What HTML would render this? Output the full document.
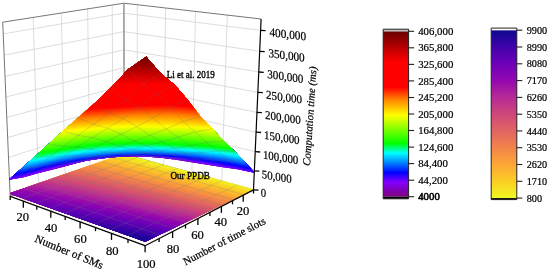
<!DOCTYPE html><html><head><meta charset="utf-8"><style>html,body{margin:0;padding:0;background:#fff}text{stroke:#000;stroke-width:.22px;paint-order:stroke}</style></head><body><svg width="550" height="275" viewBox="0 0 550 275" style="display:block;font-family:'Liberation Serif',serif" stroke-linejoin="round">
<rect width="550" height="275" fill="#fff"/>
<line x1="113.1" y1="158.3" x2="112.2" y2="5.0" stroke="#d2d2d2" stroke-width="0.75"/>
<line x1="137.0" y1="157.7" x2="137.4" y2="4.7" stroke="#d2d2d2" stroke-width="0.75"/>
<line x1="137.0" y1="157.7" x2="23.3" y2="201.2" stroke="#d2d2d2" stroke-width="0.75"/>
<line x1="113.1" y1="158.3" x2="243.2" y2="195.2" stroke="#d2d2d2" stroke-width="0.75"/>
<line x1="89.9" y1="166.9" x2="87.6" y2="8.9" stroke="#d2d2d2" stroke-width="0.75"/>
<line x1="163.6" y1="165.1" x2="165.6" y2="8.0" stroke="#d2d2d2" stroke-width="0.75"/>
<line x1="163.6" y1="165.1" x2="50.8" y2="211.2" stroke="#d2d2d2" stroke-width="0.75"/>
<line x1="89.9" y1="166.9" x2="221.4" y2="206.4" stroke="#d2d2d2" stroke-width="0.75"/>
<line x1="65.1" y1="176.1" x2="61.3" y2="13.0" stroke="#d2d2d2" stroke-width="0.75"/>
<line x1="191.9" y1="172.9" x2="195.5" y2="11.4" stroke="#d2d2d2" stroke-width="0.75"/>
<line x1="191.9" y1="172.9" x2="80.1" y2="221.9" stroke="#d2d2d2" stroke-width="0.75"/>
<line x1="65.1" y1="176.1" x2="197.9" y2="218.5" stroke="#d2d2d2" stroke-width="0.75"/>
<line x1="38.6" y1="185.9" x2="33.1" y2="17.4" stroke="#d2d2d2" stroke-width="0.75"/>
<line x1="221.8" y1="181.1" x2="227.3" y2="15.1" stroke="#d2d2d2" stroke-width="0.75"/>
<line x1="221.8" y1="181.1" x2="111.5" y2="233.4" stroke="#d2d2d2" stroke-width="0.75"/>
<line x1="38.6" y1="185.9" x2="172.6" y2="231.5" stroke="#d2d2d2" stroke-width="0.75"/>
<line x1="9.4" y1="177.1" x2="124.1" y2="137.3" stroke="#d2d2d2" stroke-width="0.75"/>
<line x1="124.1" y1="137.3" x2="254.3" y2="170.9" stroke="#d2d2d2" stroke-width="0.75"/>
<line x1="8.5" y1="157.5" x2="124.1" y2="120.2" stroke="#d2d2d2" stroke-width="0.75"/>
<line x1="124.1" y1="120.2" x2="255.2" y2="151.7" stroke="#d2d2d2" stroke-width="0.75"/>
<line x1="7.7" y1="137.6" x2="124.1" y2="102.9" stroke="#d2d2d2" stroke-width="0.75"/>
<line x1="124.1" y1="102.9" x2="256.1" y2="132.2" stroke="#d2d2d2" stroke-width="0.75"/>
<line x1="6.8" y1="117.5" x2="124.0" y2="85.4" stroke="#d2d2d2" stroke-width="0.75"/>
<line x1="124.0" y1="85.4" x2="256.9" y2="112.4" stroke="#d2d2d2" stroke-width="0.75"/>
<line x1="5.9" y1="97.0" x2="124.0" y2="67.7" stroke="#d2d2d2" stroke-width="0.75"/>
<line x1="124.0" y1="67.7" x2="257.8" y2="92.3" stroke="#d2d2d2" stroke-width="0.75"/>
<line x1="5.0" y1="76.3" x2="124.0" y2="49.8" stroke="#d2d2d2" stroke-width="0.75"/>
<line x1="124.0" y1="49.8" x2="258.8" y2="72.0" stroke="#d2d2d2" stroke-width="0.75"/>
<line x1="4.1" y1="55.2" x2="123.9" y2="31.6" stroke="#d2d2d2" stroke-width="0.75"/>
<line x1="123.9" y1="31.6" x2="259.7" y2="51.3" stroke="#d2d2d2" stroke-width="0.75"/>
<line x1="3.2" y1="33.9" x2="123.9" y2="13.2" stroke="#d2d2d2" stroke-width="0.75"/>
<line x1="123.9" y1="13.2" x2="260.6" y2="30.4" stroke="#d2d2d2" stroke-width="0.75"/>
<line x1="2.7" y1="22.2" x2="123.9" y2="3.2" stroke="#777" stroke-width="1"/>
<line x1="123.9" y1="3.2" x2="261.1" y2="19.0" stroke="#777" stroke-width="1"/>
<line x1="10.2" y1="196.4" x2="2.7" y2="22.2" stroke="#777" stroke-width="1"/>
<line x1="124.2" y1="154.2" x2="123.9" y2="3.2" stroke="#999" stroke-width="1.6"/>
<line x1="10.2" y1="196.4" x2="124.2" y2="154.2" stroke="#777" stroke-width="1"/>
<line x1="124.2" y1="154.2" x2="253.5" y2="189.9" stroke="#777" stroke-width="1"/>
<g stroke-width="0.3" stroke-linejoin="round">
<path d="M124.2,153.9 137.0,157.5 253.5,189.5 145.2,241.3 10.1,193.5Z" fill="#f1f621" stroke="#f1f621"/>
<path d="M175.9,168.5 204.4,176.0 253.5,189.5 145.2,241.3 10.1,193.5 122.3,154.6Z" fill="#f3f022" stroke="#f3f022"/>
<path d="M227.4,183.1 252.9,189.8 145.2,241.3 10.1,193.5 120.4,155.3 169.7,168.0Z" fill="#f4ea22" stroke="#f4ea22"/>
<path d="M246.8,189.2 251.5,190.4 145.2,241.3 10.1,193.5 118.5,155.9 146.2,163.0 176.7,170.9Z" fill="#f6e423" stroke="#f6e423"/>
<path d="M236.4,187.5 250.2,191.1 145.2,241.3 10.1,193.5 116.6,156.6 143.0,163.3 171.4,170.6Z" fill="#f8dd24" stroke="#f8dd24"/>
<path d="M228.0,186.3 248.9,191.7 145.2,241.3 10.1,193.5 114.6,157.2 139.8,163.6 166.9,170.5Z" fill="#f9d724" stroke="#f9d724"/>
<path d="M241.6,190.8 247.5,192.4 145.2,241.3 10.1,193.5 112.7,157.9 140.8,164.9 171.1,172.6 204.5,181.2Z" fill="#fbd125" stroke="#fbd125"/>
<path d="M233.4,189.7 246.1,193.0 145.2,241.3 10.1,193.5 110.8,158.6 137.6,165.3 167.2,172.7 199.1,180.9Z" fill="#fccb26" stroke="#fccb26"/>
<path d="M244.6,193.6 244.8,193.7 145.2,241.3 10.1,193.5 108.8,159.3 138.7,166.6 170.8,174.7 206.2,183.7Z" fill="#fcc529" stroke="#fcc529"/>
<path d="M236.8,192.6 243.4,194.3 145.2,241.3 10.1,193.5 106.9,159.9 135.4,166.9 166.1,174.6 200.0,183.2Z" fill="#fcc02b" stroke="#fcc02b"/>
<path d="M229.9,191.9 242.0,195.0 145.2,241.3 10.1,193.5 104.9,160.6 132.2,167.3 162.2,174.7 194.5,182.8Z" fill="#fcba2e" stroke="#fcba2e"/>
<path d="M238.7,195.2 240.6,195.7 145.2,241.3 10.1,193.5 102.9,161.3 132.5,168.5 165.0,176.5 200.1,185.3Z" fill="#fcb430" stroke="#fcb430"/>
<path d="M232.1,194.5 239.2,196.3 145.2,241.3 10.1,193.5 100.9,162.0 130.0,169.0 161.1,176.6 195.3,185.2Z" fill="#fcaf32" stroke="#fcaf32"/>
<path d="M226.1,194.0 237.8,197.0 145.2,241.3 10.1,193.5 98.9,162.7 126.7,169.3 157.1,176.7 190.0,184.9Z" fill="#fca935" stroke="#fca935"/>
<path d="M233.3,196.9 236.4,197.7 145.2,241.3 10.1,193.5 96.9,163.4 127.0,170.5 159.2,178.3 194.6,187.1Z" fill="#fba438" stroke="#fba438"/>
<path d="M227.5,196.5 235.0,198.4 145.2,241.3 10.1,193.5 94.8,164.1 124.4,171.0 155.9,178.6 189.8,187.0Z" fill="#fa9f3a" stroke="#fa9f3a"/>
<path d="M222.1,196.1 233.6,199.0 145.2,241.3 10.1,193.5 92.8,164.8 121.0,171.4 151.9,178.7 185.8,187.1Z" fill="#f89a3d" stroke="#f89a3d"/>
<path d="M228.2,198.7 232.2,199.7 145.2,241.3 10.1,193.5 90.7,165.5 120.6,172.4 153.3,180.2 189.1,188.9Z" fill="#f79540" stroke="#f79540"/>
<path d="M222.9,198.4 230.7,200.4 145.2,241.3 10.1,193.5 88.7,166.3 118.0,172.9 150.0,180.5 185.0,189.0Z" fill="#f69044" stroke="#f69044"/>
<path d="M228.3,200.9 229.3,201.1 145.2,241.3 10.1,193.5 86.6,167.0 117.6,174.0 151.3,181.9 188.4,190.9Z" fill="#f48b46" stroke="#f48b46"/>
<path d="M223.2,200.6 227.8,201.8 145.2,241.3 10.1,193.5 84.5,167.7 114.9,174.5 148.0,182.3 184.3,191.0Z" fill="#f3864a" stroke="#f3864a"/>
<path d="M218.3,200.5 226.4,202.5 145.2,241.3 10.1,193.5 82.4,168.4 112.2,175.1 144.7,182.6 180.2,191.1Z" fill="#f1824d" stroke="#f1824d"/>
<path d="M223.0,202.7 224.9,203.2 145.2,241.3 10.1,193.5 80.3,169.2 111.8,176.1 146.0,184.1 182.7,192.8Z" fill="#ee7d50" stroke="#ee7d50"/>
<path d="M218.2,202.6 223.4,203.9 145.2,241.3 10.1,193.5 78.2,169.9 109.1,176.7 142.7,184.4 178.6,192.9Z" fill="#ec7953" stroke="#ec7953"/>
<path d="M213.7,202.6 222.0,204.6 145.2,241.3 10.1,193.5 76.0,170.6 106.3,177.2 139.3,184.7 175.3,193.2Z" fill="#ea7456" stroke="#ea7456"/>
<path d="M217.8,204.6 220.5,205.3 145.2,241.3 10.1,193.5 73.9,171.4 89.8,174.8 105.9,178.3 139.9,186.0 177.0,194.7Z" fill="#e76f5a" stroke="#e76f5a"/>
<path d="M213.3,204.6 219.0,206.0 145.2,241.3 10.1,193.5 71.7,172.1 86.9,175.3 103.2,178.9 119.6,182.5 137.3,186.5 173.6,195.0Z" fill="#e56b5d" stroke="#e56b5d"/>
<path d="M217.0,206.6 217.5,206.7 145.2,241.3 10.1,193.5 69.6,172.9 85.6,176.3 101.9,179.8 119.3,183.6 137.1,187.6 156.0,192.0 175.4,196.6Z" fill="#e26660" stroke="#e26660"/>
<path d="M212.6,206.6 216.0,207.5 145.2,241.3 10.1,193.5 67.4,173.6 83.5,177.0 99.9,180.5 116.6,184.2 134.4,188.2 152.6,192.3 172.0,196.9Z" fill="#e06264" stroke="#e06264"/>
<path d="M208.3,206.7 214.5,208.2 145.2,241.3 10.1,193.5 65.2,174.4 80.7,177.6 97.1,181.1 113.9,184.7 130.9,188.5 148.8,192.6 167.7,197.0Z" fill="#dd5e67" stroke="#dd5e67"/>
<path d="M211.7,208.6 212.9,208.9 145.2,241.3 10.1,193.5 63.0,175.2 79.3,178.5 95.9,182.0 113.6,185.8 131.5,189.8 150.7,194.2 170.4,198.8Z" fill="#db5a6a" stroke="#db5a6a"/>
<path d="M207.5,208.7 211.4,209.6 145.2,241.3 10.1,193.5 60.7,175.9 76.4,179.1 93.1,182.6 110.8,186.4 128.4,190.3 147.3,194.5 166.1,198.9 186.2,203.6Z" fill="#d8566d" stroke="#d8566d"/>
<path d="M203.4,208.8 209.9,210.4 145.2,241.3 10.1,193.5 58.5,176.7 74.3,179.9 91.0,183.4 108.0,187.0 125.3,190.8 143.8,194.9 162.6,199.2 182.8,203.9Z" fill="#d55171" stroke="#d55171"/>
<path d="M206.4,210.6 208.3,211.1 145.2,241.3 10.1,193.5 56.3,177.5 72.9,180.8 89.8,184.3 106.9,187.9 125.1,191.9 144.5,196.2 164.4,200.8 184.7,205.5Z" fill="#d34d74" stroke="#d34d74"/>
<path d="M202.3,210.8 206.8,211.9 145.2,241.3 10.1,193.5 54.0,178.3 70.0,181.4 86.9,184.9 104.5,188.6 122.4,192.4 141.0,196.6 160.9,201.1 181.3,205.8Z" fill="#d04977" stroke="#d04977"/>
<path d="M205.1,212.6 205.2,212.6 145.2,241.3 10.1,193.5 51.7,179.1 68.6,182.4 85.6,185.8 103.8,189.6 122.2,193.6 141.8,197.9 161.8,202.5 183.2,207.4Z" fill="#cd457b" stroke="#cd457b"/>
<path d="M201.1,212.7 203.6,213.4 145.2,241.3 10.1,193.5 49.4,179.9 66.3,183.1 83.5,186.6 100.9,190.2 119.4,194.1 138.3,198.3 158.3,202.8 178.9,207.5Z" fill="#ca417f" stroke="#ca417f"/>
<path d="M197.2,213.0 202.1,214.1 145.2,241.3 10.1,193.5 47.1,180.7 63.4,183.8 80.6,187.2 98.1,190.8 116.6,194.7 136.0,199.0 155.7,203.4 176.3,208.1Z" fill="#c63d83" stroke="#c63d83"/>
<path d="M199.6,214.7 200.5,214.9 145.2,241.3 10.1,193.5 44.8,181.5 62.0,184.7 79.3,188.2 97.7,191.9 116.4,195.9 136.3,200.2 156.6,204.7 177.3,209.5Z" fill="#c23888" stroke="#c23888"/>
<path d="M195.8,214.9 198.9,215.6 145.2,241.3 10.1,193.5 42.5,182.3 59.6,185.5 77.2,188.9 94.9,192.5 113.6,196.5 132.7,200.6 153.0,205.1 173.8,209.8Z" fill="#bf348c" stroke="#bf348c"/>
<path d="M192.0,215.2 197.3,216.4 145.2,241.3 10.1,193.5 40.1,183.1 56.7,186.2 74.2,189.6 92.0,193.1 110.8,197.0 130.0,201.2 149.5,205.5 170.3,210.2Z" fill="#bb3090" stroke="#bb3090"/>
<path d="M194.2,216.8 195.7,217.2 145.2,241.3 10.1,193.5 37.8,183.9 55.3,187.1 72.9,190.5 91.6,194.3 110.6,198.2 129.8,202.3 150.6,206.9 172.3,211.8Z" fill="#b82c94" stroke="#b82c94"/>
<path d="M190.5,217.1 194.1,217.9 145.2,241.3 10.1,193.5 35.4,184.7 52.2,187.8 69.9,191.2 88.7,194.9 107.5,198.8 127.1,202.9 147.7,207.4 168.7,212.1Z" fill="#b42898" stroke="#b42898"/>
<path d="M186.8,217.4 192.4,218.7 145.2,241.3 10.1,193.5 33.0,185.6 49.9,188.6 67.7,192.0 86.1,195.6 104.9,199.4 124.3,203.5 144.1,207.8 165.1,212.5Z" fill="#af239c" stroke="#af239c"/>
<path d="M188.8,219.0 190.8,219.5 145.2,241.3 10.1,193.5 30.6,186.4 48.4,189.6 66.4,192.9 84.5,196.5 103.7,200.4 124.2,204.7 145.0,209.2 166.2,213.9Z" fill="#aa1e9f" stroke="#aa1e9f"/>
<path d="M185.1,219.4 189.2,220.3 145.2,241.3 10.1,193.5 28.2,187.2 45.3,190.2 63.3,193.6 81.5,197.1 100.9,201.0 120.5,205.1 141.3,209.6 162.6,214.3Z" fill="#a519a3" stroke="#a519a3"/>
<path d="M187.0,220.9 187.5,221.1 145.2,241.3 10.1,193.5 25.8,188.1 43.8,191.2 62.0,194.6 80.9,198.2 100.6,202.2 121.2,206.4 142.2,210.9 164.6,215.9Z" fill="#a014a7" stroke="#a014a7"/>
<path d="M183.3,221.3 185.8,221.9 145.2,241.3 10.1,193.5 23.3,188.9 41.5,192.1 59.7,195.4 78.2,198.9 97.7,202.8 118.4,207.1 139.1,211.5 161.0,216.3Z" fill="#9b0faa" stroke="#9b0faa"/>
<path d="M179.7,221.7 184.2,222.7 145.2,241.3 10.1,193.5 20.9,189.8 38.6,192.8 56.6,196.1 75.1,199.6 94.8,203.4 115.1,207.6 135.8,211.9 157.3,216.6Z" fill="#960aae" stroke="#960aae"/>
<path d="M181.4,223.2 182.5,223.5 145.2,241.3 10.1,193.5 18.4,190.6 34.3,193.3 50.8,196.3 67.7,199.4 85.5,202.8 103.6,206.4 121.9,210.2 141.4,214.4 161.3,218.7Z" fill="#9107b1" stroke="#9107b1"/>
<path d="M177.8,223.6 180.8,224.3 145.2,241.3 10.1,193.5 15.9,191.5 31.8,194.2 47.7,196.9 61.9,199.5 77.2,202.4 92.4,205.4 108.9,208.7 125.5,212.2 142.4,215.8 159.5,219.5Z" fill="#8b06b2" stroke="#8b06b2"/>
<path d="M174.3,224.0 179.1,225.1 145.2,241.3 10.1,193.5 13.4,192.4 37.3,196.4 62.3,200.9 88.5,205.9 116.1,211.4 144.3,217.4Z" fill="#8605b3" stroke="#8605b3"/>
<path d="M175.8,225.5 177.4,225.9 145.2,241.3 10.1,193.5 10.9,193.2 34.1,197.1 57.4,201.2 81.9,205.8 103.9,210.2 127.3,215.0 151.1,220.1Z" fill="#8004b4" stroke="#8004b4"/>
<path d="M172.3,226.0 175.7,226.7 145.2,241.3 14.7,195.1 32.6,198.1 50.6,201.3 69.7,204.8 88.8,208.4 108.4,212.3 129.2,216.6 150.3,221.1Z" fill="#7a03b5" stroke="#7a03b5"/>
<path d="M173.7,227.5 174.0,227.5 145.2,241.3 21.3,197.5 38.4,200.4 56.5,203.6 74.9,207.0 92.9,210.5 112.1,214.3 132.0,218.4 152.3,222.8Z" fill="#7502b6" stroke="#7502b6"/>
<path d="M170.1,227.9 172.3,228.4 145.2,241.3 28.1,199.9 44.2,202.7 60.7,205.6 77.6,208.8 95.2,212.2 112.9,215.7 131.1,219.5 150.5,223.6Z" fill="#6f01b7" stroke="#6f01b7"/>
<path d="M166.7,228.4 170.5,229.2 145.2,241.3 35.0,202.3 50.2,205.0 65.6,207.8 81.7,210.8 97.7,213.9 113.8,217.1 131.1,220.7 148.7,224.4Z" fill="#6900b7" stroke="#6900b7"/>
<path d="M167.9,229.9 168.8,230.0 145.2,241.3 42.1,204.8 56.2,207.3 71.1,210.1 86.2,212.9 102.3,216.1 117.6,219.2 134.1,222.6 150.8,226.1Z" fill="#6300b5" stroke="#6300b5"/>
<path d="M164.5,230.3 167.0,230.9 145.2,241.3 49.2,207.4 62.4,209.7 76.5,212.3 104.1,217.7 133.9,223.8Z" fill="#5d01b3" stroke="#5d01b3"/>
<path d="M161.0,230.8 165.2,231.7 145.2,241.3 56.5,209.9 81.0,214.5 106.9,219.5 133.2,224.9Z" fill="#5601b1" stroke="#5601b1"/>
<path d="M162.1,232.3 163.5,232.6 145.2,241.3 63.8,212.5 87.1,216.9 110.7,221.5 136.2,226.8Z" fill="#5001af" stroke="#5001af"/>
<path d="M158.7,232.8 161.7,233.4 145.2,241.3 71.3,215.2 92.1,219.1 113.6,223.4 135.4,227.8Z" fill="#4a02ad" stroke="#4a02ad"/>
<path d="M159.7,234.3 159.9,234.3 145.2,241.3 79.0,217.9 98.8,221.7 118.4,225.6 138.5,229.8Z" fill="#4402ab" stroke="#4402ab"/>
<path d="M156.3,234.8 158.1,235.1 145.2,241.3 86.7,220.6 103.7,223.9 120.6,227.3 138.7,231.0Z" fill="#3d02a8" stroke="#3d02a8"/>
<path d="M152.9,235.3 156.3,236.0 145.2,241.3 94.6,223.4 123.6,229.2Z" fill="#3603a4" stroke="#3603a4"/>
<path d="M153.8,236.8 154.4,236.9 145.2,241.3 102.7,226.3 127.7,231.3Z" fill="#2e04a1" stroke="#2e04a1"/>
<path d="M150.4,237.3 152.6,237.8 145.2,241.3 110.9,229.2 130.0,233.1Z" fill="#27059d" stroke="#27059d"/>
<path d="M147.0,237.9 150.8,238.7 145.2,241.3 119.2,232.1Z" fill="#200699" stroke="#200699"/>
<path d="M147.8,239.3 148.9,239.5 145.2,241.3 127.7,235.2Z" fill="#180796" stroke="#180796"/>
<path d="M144.4,239.9 147.0,240.4 145.2,241.3 136.4,238.2Z" fill="#110892" stroke="#110892"/>
</g>
<g stroke="#777" stroke-opacity="0.4" stroke-width="0.6" fill="none">
<path d="M113.1,157.8 243.2,194.4M137.0,157.5 23.2,198.1M101.6,161.8 232.5,199.5M150.1,161.1 36.7,202.9M89.8,165.8 221.4,204.9M163.6,164.8 50.7,207.9M77.6,170.1 209.9,210.4M177.6,168.6 65.1,213.0M65.0,174.4 198.0,216.1M191.9,172.6 80.0,218.3M52.0,179.0 185.5,222.0M206.6,176.6 95.5,223.7M38.5,183.6 172.6,228.2M221.8,180.8 111.4,229.4M24.6,188.5 159.2,234.6M237.4,185.1 128.0,235.3"/>
</g>
<g stroke-width="0.3" stroke-linejoin="round">
<path d="M124.1,150.8 113.0,152.6 101.6,155.5 77.5,162.0 66.9,165.4 72.5,163.7 78.4,162.1 84.4,160.7 85.6,160.5 86.2,160.4 86.9,160.2 86.7,160.2 86.3,160.3 86.7,160.3 87.5,160.1 88.0,160.0 89.3,159.8 95.2,158.9 103.6,157.8 113.1,156.8 120.1,156.3 126.0,155.9 128.3,155.8 129.5,155.8 130.0,155.8 130.6,155.8 130.0,155.8 130.4,155.8 130.9,155.8 131.7,155.8 133.4,155.7 136.8,155.8 144.1,156.0 149.3,156.3 160.2,157.2 166.3,157.9 172.7,158.8 163.7,157.4 137.0,152.7Z" fill="#7e0099" stroke="#7e0099"/>
<path d="M130.9,151.9 119.5,151.5 113.0,152.6 101.6,155.5 77.5,162.0 66.9,165.4 72.5,163.7 78.4,162.1 84.4,160.7 85.6,160.5 86.2,160.4 86.9,160.2 86.7,160.2 86.3,160.3 86.7,160.3 87.5,160.1 88.0,160.0 89.3,159.8 95.2,158.9 103.6,157.8 113.1,156.8 120.1,156.3 126.0,155.9 128.3,155.8 129.5,155.8 130.0,155.8 130.6,155.8 130.0,155.8 130.4,155.8 130.9,155.8 131.7,155.8 133.4,155.7 136.8,155.8 144.1,156.0 149.3,156.3 160.2,157.2 166.3,157.9 172.7,158.8 163.7,157.4 137.0,152.7 131.6,151.9Z" fill="#7e00a3" stroke="#7e00a3"/>
<path d="M139.5,153.1 135.8,152.8 121.5,152.4 114.8,152.3 113.0,152.6 101.6,155.5 77.5,162.0 66.9,165.4 72.5,163.7 78.4,162.1 84.4,160.7 85.6,160.5 86.2,160.4 86.9,160.2 86.7,160.2 86.3,160.3 86.7,160.3 87.5,160.1 88.0,160.0 89.3,159.8 95.2,158.9 103.6,157.8 113.1,156.8 120.1,156.3 126.0,155.9 128.3,155.8 129.5,155.8 130.0,155.8 130.6,155.8 130.0,155.8 130.4,155.8 130.9,155.8 131.7,155.8 133.4,155.7 136.8,155.8 144.1,156.0 149.3,156.3 160.2,157.2 166.3,157.9 172.7,158.8 163.7,157.4Z" fill="#7f00ad" stroke="#7f00ad"/>
<path d="M149.4,154.8 143.3,154.2 138.1,153.8 133.6,153.5 126.3,153.3 117.1,153.1 113.0,153.4 109.1,153.8 107.3,154.1 101.6,155.5 77.5,162.0 66.9,165.4 72.5,163.7 78.4,162.1 84.4,160.7 85.6,160.5 86.2,160.4 86.9,160.2 86.7,160.2 86.3,160.3 86.7,160.3 87.5,160.1 88.0,160.0 89.3,159.8 95.2,158.9 103.6,157.8 113.1,156.8 120.1,156.3 126.0,155.9 128.3,155.8 129.5,155.8 130.0,155.8 130.6,155.8 130.0,155.8 130.4,155.8 130.9,155.8 131.7,155.8 133.4,155.7 136.8,155.8 144.1,156.0 149.3,156.3 160.2,157.2 166.3,157.9 172.7,158.8 163.7,157.4Z" fill="#7f00b7" stroke="#7f00b7"/>
<path d="M160.2,156.7 153.9,155.9 147.8,155.1 141.8,154.6 135.9,154.2 130.7,154.1 121.2,154.0 116.4,154.1 111.8,154.5 108.0,154.9 104.4,155.4 101.4,155.9 97.6,156.6 77.5,162.0 66.9,165.4 72.5,163.7 78.4,162.1 84.4,160.7 85.6,160.5 86.2,160.4 86.9,160.2 86.7,160.2 86.3,160.3 86.7,160.3 87.5,160.1 88.0,160.0 89.3,159.8 95.2,158.9 103.6,157.8 113.1,156.8 120.1,156.3 126.0,155.9 128.3,155.8 129.5,155.8 130.0,155.8 130.6,155.8 130.0,155.8 130.4,155.8 130.9,155.8 131.7,155.8 133.4,155.7 136.8,155.8 144.1,156.0 149.3,156.3 160.2,157.2 166.3,157.9 172.7,158.8 163.7,157.4Z" fill="#8000c1" stroke="#8000c1"/>
<path d="M170.0,158.3 158.8,156.8 153.2,156.1 147.3,155.5 140.6,155.0 134.5,154.7 128.2,154.6 119.4,154.7 114.1,155.0 108.0,155.6 103.4,156.2 97.1,157.3 90.5,158.6 86.7,159.5 77.5,162.0 66.9,165.4 72.5,163.7 78.1,162.2 84.4,160.7 88.8,159.9 94.8,158.9 103.2,157.8 112.4,156.8 118.8,156.3 125.2,156.0 127.9,155.9 129.3,155.8 130.0,155.8 130.6,155.8 130.0,155.8 130.4,155.8 130.9,155.8 131.7,155.8 133.4,155.7 136.8,155.8 143.7,156.0 149.3,156.3 160.2,157.2 166.3,157.9 172.7,158.8Z" fill="#8000cb" stroke="#8000cb"/>
<path d="M66.9,165.4 72.5,163.7 78.1,162.2 84.4,160.7 88.8,159.9 94.8,158.9 103.2,157.8 111.8,156.9 118.4,156.4 125.2,156.0 127.9,155.9 129.3,155.8 130.0,155.8 130.6,155.8 130.2,155.8 130.0,155.8 130.4,155.8 130.9,155.8 131.7,155.8 132.8,155.7 135.7,155.8 141.8,155.9 148.1,156.2 158.2,157.0 163.6,157.5 169.5,158.3 163.3,157.5 152.3,156.2 145.9,155.6 139.5,155.3 132.7,155.0 127.1,155.0 121.8,155.2 114.0,155.6 108.9,156.0 102.5,156.9 96.5,157.8 90.0,159.1 84.2,160.4 77.9,161.9Z" fill="#8000d6" stroke="#8000d6"/>
<path d="M164.4,157.6 163.7,157.6 163.1,157.5 161.4,157.3 154.4,156.6 149.7,156.1 143.8,155.7 137.6,155.4 132.2,155.3 127.2,155.3 121.8,155.5 116.8,155.8 110.6,156.3 104.9,156.9 99.0,157.8 91.9,159.0 86.1,160.1 79.9,161.5 75.0,162.9 72.2,163.8 69.6,164.5 74.5,163.1 79.7,161.8 83.1,161.0 84.9,160.6 85.6,160.5 86.2,160.4 86.9,160.2 86.3,160.3 86.7,160.3 87.5,160.1 88.0,160.0 89.3,159.8 94.5,159.0 102.4,157.9 111.2,157.0 117.2,156.4 124.5,156.0 127.9,155.9 129.3,155.8 130.0,155.8 130.6,155.8 130.2,155.8 130.0,155.8 130.4,155.8 131.1,155.8 132.3,155.8 134.6,155.8 139.1,155.8 144.1,156.0 149.3,156.3 158.2,157.0 164.5,157.6Z" fill="#8100e0" stroke="#8100e0"/>
<path d="M157.8,157.0 151.6,156.4 147.2,156.1 142.0,155.8 137.3,155.6 132.0,155.5 127.6,155.5 122.8,155.7 118.1,155.9 113.0,156.4 105.3,157.2 100.5,157.8 93.5,158.9 88.0,159.9 82.0,161.2 77.6,162.3 75.4,162.9 73.5,163.4 78.4,162.1 83.1,161.0 84.9,160.6 85.6,160.5 86.2,160.4 86.9,160.2 86.7,160.2 86.3,160.3 86.7,160.3 87.5,160.1 88.8,159.9 91.2,159.5 96.0,158.8 103.2,157.8 111.2,157.0 116.6,156.5 122.0,156.1 128.3,155.8 129.5,155.8 130.0,155.8 130.6,155.8 130.0,155.8 130.4,155.8 130.9,155.8 131.7,155.8 133.4,155.7 136.3,155.8 140.9,155.9 145.9,156.1 158.6,157.0Z" fill="#8100ea" stroke="#8100ea"/>
<path d="M153.7,156.7 153.2,156.6 152.8,156.6 151.8,156.5 148.3,156.2 144.3,156.0 140.3,155.8 135.8,155.7 130.6,155.7 126.4,155.7 121.6,155.9 118.3,156.1 113.6,156.5 109.2,157.0 99.1,158.2 94.7,158.9 89.5,159.7 86.9,160.2 84.0,160.8 81.0,161.5 79.5,161.9 78.7,162.0 78.3,162.1 77.7,162.3 82.3,161.2 84.4,160.7 85.6,160.5 86.2,160.4 86.9,160.2 86.7,160.2 86.3,160.3 86.7,160.3 87.5,160.1 88.0,160.0 90.0,159.7 93.7,159.1 104.1,157.7 111.8,156.9 117.2,156.4 122.0,156.1 127.9,155.9 129.3,155.8 130.0,155.8 130.6,155.8 130.0,155.8 130.4,155.8 131.1,155.8 132.3,155.8 135.0,155.8 139.7,155.8 144.1,156.0 148.1,156.2 150.1,156.4 152.4,156.6 153.3,156.6 153.5,156.6 154.0,156.7Z" fill="#8200f4" stroke="#8200f4"/>
<path d="M86.1,160.4 84.5,160.7 83.7,160.9 83.3,161.0 82.6,161.1 86.9,160.2ZM144.6,156.0 144.1,156.0 143.5,156.0 143.2,156.0 142.5,155.9 141.4,155.9 140.0,155.8 138.2,155.8 134.8,155.7 132.0,155.7 125.1,155.8 118.9,156.2 113.1,156.7 107.0,157.3 101.4,158.0 98.0,158.5 96.1,158.7 92.2,159.3 90.4,159.6 89.5,159.7 89.1,159.8 88.7,159.9 88.5,159.9 94.5,159.0 103.2,157.8 111.8,156.9 118.4,156.4 125.2,156.0 127.9,155.9 129.3,155.8 130.0,155.8 130.6,155.8 130.0,155.8 130.4,155.8 130.9,155.8 131.7,155.8 133.6,155.7 137.7,155.8 144.7,156.0Z" fill="#8200fe" stroke="#8200fe"/>
<path d="M130.9,155.8 130.4,155.8 129.8,155.8 129.7,155.8 128.6,155.8 125.0,155.9 118.9,156.3 112.9,156.8 106.5,157.4 113.1,156.8 118.4,156.4 125.2,156.0 130.9,155.8Z" fill="#7300ff" stroke="#7300ff"/>
<path d="M129.4,155.8 129.3,155.8 128.8,155.8 128.2,155.8 128.0,155.8 127.5,155.9 127.0,155.9 126.7,155.9 125.8,155.9 125.3,156.0 124.7,156.0 123.9,156.0 123.5,156.1 123.1,156.1 122.4,156.1 119.8,156.3 117.4,156.4 115.3,156.6 113.8,156.7 112.6,156.8 111.6,156.9 111.1,157.0 110.3,157.1 114.8,156.6 119.3,156.3 121.6,156.2 123.7,156.0 124.1,156.0 124.5,156.0 124.9,156.0 125.2,156.0 126.0,155.9 126.6,155.9 127.1,155.9 127.9,155.9 128.3,155.8 128.8,155.8 129.3,155.8 129.5,155.8 129.5,155.8Z" fill="#6300ff" stroke="#6300ff"/>
<path d="M172.7,158.8 165.2,157.7 160.9,157.2 157.0,156.9 145.3,156.1 140.4,155.9 135.7,155.8 132.8,155.7 131.7,155.8 130.9,155.8 130.4,155.8 130.0,155.8 130.2,155.8 130.6,155.8 130.0,155.8 129.3,155.8 127.9,155.9 125.2,156.0 119.3,156.3 111.8,156.9 101.2,158.1 94.5,159.0 90.0,159.7 88.0,160.0 87.5,160.1 86.7,160.3 86.3,160.3 86.7,160.2 86.9,160.2 86.2,160.4 85.6,160.5 84.4,160.7 81.4,161.4 77.1,162.4 73.2,163.5 69.2,164.6 64.8,166.0 51.7,169.3 38.2,172.7 24.1,176.7 9.5,179.2 22.0,168.2 35.1,156.5 48.8,144.1 63.2,131.0 94.0,104.0 110.5,88.4 127.9,69.8 146.2,57.0 160.9,73.8 174.9,85.3 188.0,100.6 200.4,116.7 212.3,128.8 223.6,141.1 234.3,151.1 244.5,162.0 254.3,172.3 238.0,168.8 222.2,166.6 206.9,164.2Z" fill="#7e0099" stroke="#7e0099"/>
<path d="M172.7,158.8 165.2,157.7 160.9,157.2 157.0,156.9 145.3,156.1 140.4,155.9 135.7,155.8 132.8,155.7 131.7,155.8 130.9,155.8 130.4,155.8 130.0,155.8 130.2,155.8 130.6,155.8 130.0,155.8 129.3,155.8 127.9,155.9 125.2,156.0 119.3,156.3 111.8,156.9 101.2,158.1 94.5,159.0 90.0,159.7 88.0,160.0 87.5,160.1 86.7,160.3 86.3,160.3 86.7,160.2 86.9,160.2 86.2,160.4 85.6,160.5 84.4,160.7 81.4,161.4 77.1,162.4 73.2,163.5 69.2,164.6 64.8,166.0 51.7,169.3 38.2,172.7 24.1,176.7 9.5,179.2 22.0,168.2 35.1,156.5 48.8,144.1 63.2,131.0 94.0,104.0 110.5,88.4 127.9,69.8 146.2,57.0 160.9,73.8 174.9,85.3 188.0,100.6 200.4,116.7 212.3,128.8 223.6,141.1 234.3,151.1 244.5,162.0 254.3,172.3 238.0,168.8 222.2,166.6 206.9,164.2Z" fill="#7e00a3" stroke="#7e00a3"/>
<path d="M172.7,158.8 165.2,157.7 160.9,157.2 157.0,156.9 145.3,156.1 140.4,155.9 135.7,155.8 132.8,155.7 131.7,155.8 130.9,155.8 130.4,155.8 130.0,155.8 130.2,155.8 130.6,155.8 130.0,155.8 129.3,155.8 127.9,155.9 125.2,156.0 119.3,156.3 111.8,156.9 101.2,158.1 94.5,159.0 90.0,159.7 88.0,160.0 87.5,160.1 86.7,160.3 86.3,160.3 86.7,160.2 86.9,160.2 86.2,160.4 85.6,160.5 84.4,160.7 81.4,161.4 77.1,162.4 73.2,163.5 69.2,164.6 64.8,166.0 51.7,169.3 38.2,172.7 24.1,176.7 9.5,179.2 22.0,168.2 35.1,156.5 48.8,144.1 63.2,131.0 94.0,104.0 110.5,88.4 127.9,69.8 146.2,57.0 160.9,73.8 174.9,85.3 188.0,100.6 200.4,116.7 212.3,128.8 223.6,141.1 234.3,151.1 244.5,162.0 254.3,172.3 238.0,168.8 222.2,166.6 206.9,164.2Z" fill="#7f00ad" stroke="#7f00ad"/>
<path d="M172.7,158.8 165.2,157.7 160.9,157.2 157.0,156.9 145.3,156.1 140.4,155.9 135.7,155.8 132.8,155.7 131.7,155.8 130.9,155.8 130.4,155.8 130.0,155.8 130.2,155.8 130.6,155.8 130.0,155.8 129.3,155.8 127.9,155.9 125.2,156.0 119.3,156.3 111.8,156.9 101.2,158.1 94.5,159.0 90.0,159.7 88.0,160.0 87.5,160.1 86.7,160.3 86.3,160.3 86.7,160.2 86.9,160.2 86.2,160.4 85.6,160.5 84.4,160.7 81.4,161.4 77.1,162.4 73.2,163.5 69.2,164.6 64.8,166.0 51.7,169.3 38.2,172.7 24.1,176.7 9.5,179.2 22.0,168.2 35.1,156.5 48.8,144.1 63.2,131.0 94.0,104.0 110.5,88.4 127.9,69.8 146.2,57.0 160.9,73.8 174.9,85.3 188.0,100.6 200.4,116.7 212.3,128.8 223.6,141.1 234.3,151.1 244.5,162.0 254.3,172.3 238.0,168.8 222.2,166.6 206.9,164.2Z" fill="#7f00b7" stroke="#7f00b7"/>
<path d="M172.7,158.8 165.2,157.7 160.9,157.2 157.0,156.9 145.3,156.1 140.4,155.9 135.7,155.8 132.8,155.7 131.7,155.8 130.9,155.8 130.4,155.8 130.0,155.8 130.2,155.8 130.6,155.8 130.0,155.8 129.3,155.8 127.9,155.9 125.2,156.0 119.3,156.3 111.8,156.9 101.2,158.1 94.5,159.0 90.0,159.7 88.0,160.0 87.5,160.1 86.7,160.3 86.3,160.3 86.7,160.2 86.9,160.2 86.2,160.4 85.6,160.5 84.4,160.7 81.4,161.4 77.1,162.4 73.2,163.5 69.2,164.6 64.8,166.0 51.7,169.3 38.2,172.7 24.1,176.7 9.5,179.2 22.0,168.2 35.1,156.5 48.8,144.1 63.2,131.0 94.0,104.0 110.5,88.4 127.9,69.8 146.2,57.0 160.9,73.8 174.9,85.3 188.0,100.6 200.4,116.7 212.3,128.8 223.6,141.1 234.3,151.1 244.5,162.0 254.3,172.3 238.0,168.8 222.2,166.6 206.9,164.2Z" fill="#8000c1" stroke="#8000c1"/>
<path d="M172.7,158.8 165.2,157.7 160.9,157.2 157.0,156.9 145.3,156.1 140.4,155.9 135.7,155.8 132.8,155.7 131.7,155.8 130.9,155.8 130.4,155.8 130.0,155.8 130.2,155.8 130.6,155.8 130.0,155.8 129.3,155.8 127.9,155.9 125.2,156.0 119.3,156.3 111.8,156.9 101.2,158.1 94.5,159.0 90.0,159.7 88.0,160.0 87.5,160.1 86.7,160.3 86.3,160.3 86.7,160.2 86.9,160.2 86.2,160.4 85.6,160.5 84.4,160.7 81.4,161.4 77.1,162.4 73.2,163.5 69.2,164.6 64.8,166.0 51.7,169.3 38.2,172.7 24.1,176.7 9.5,179.2 22.0,168.2 35.1,156.5 48.8,144.1 63.2,131.0 94.0,104.0 110.5,88.4 127.9,69.8 146.2,57.0 160.9,73.8 174.9,85.3 188.0,100.6 200.4,116.7 212.3,128.8 223.6,141.1 234.3,151.1 244.5,162.0 254.3,172.3 238.0,168.8 222.2,166.6 206.9,164.2Z" fill="#8000cb" stroke="#8000cb"/>
<path d="M179.1,159.8 169.1,158.2 160.9,157.2 156.5,156.9 148.1,156.2 143.7,156.0 139.1,155.8 134.6,155.8 132.3,155.8 131.1,155.8 130.4,155.8 130.0,155.8 130.2,155.8 130.6,155.8 130.0,155.8 129.5,155.8 128.8,155.8 127.1,155.9 123.7,156.0 118.8,156.3 114.4,156.7 103.6,157.8 96.4,158.7 91.2,159.5 88.8,159.9 87.5,160.1 86.7,160.3 86.3,160.3 86.7,160.2 86.9,160.2 86.2,160.4 85.6,160.5 84.4,160.7 81.9,161.3 77.6,162.3 73.2,163.5 69.2,164.6 64.8,166.0 51.7,169.3 38.2,172.7 24.1,176.7 9.5,179.2 22.0,168.2 35.1,156.5 48.8,144.1 63.2,131.0 94.0,104.0 110.5,88.4 127.9,69.8 146.2,57.0 160.9,73.8 174.9,85.3 188.0,100.6 200.4,116.7 212.3,128.8 223.6,141.1 234.3,151.1 244.5,162.0 254.3,172.3 238.0,168.8 222.2,166.6 206.9,164.2Z" fill="#8000d6" stroke="#8000d6"/>
<path d="M188.4,161.3 175.9,159.2 165.3,157.7 157.6,156.9 145.3,156.1 137.7,155.8 133.6,155.7 131.7,155.8 130.9,155.8 130.4,155.8 130.0,155.8 130.2,155.8 130.6,155.8 130.0,155.8 129.5,155.8 128.3,155.8 126.0,155.9 119.6,156.3 114.8,156.6 110.0,157.1 102.4,157.9 94.5,159.0 90.6,159.6 88.8,159.9 87.5,160.1 86.7,160.3 86.3,160.3 86.7,160.2 86.9,160.2 86.2,160.4 85.6,160.5 84.9,160.6 83.6,160.9 79.4,161.9 75.1,163.0 71.2,164.1 65.9,165.7 58.0,167.8 38.2,172.7 24.1,176.7 9.5,179.2 22.0,168.2 35.1,156.5 48.8,144.1 63.2,131.0 94.0,104.0 110.5,88.4 127.9,69.8 146.2,57.0 160.9,73.8 174.9,85.3 188.0,100.6 200.4,116.7 212.3,128.8 223.6,141.1 234.3,151.1 244.5,162.0 254.3,172.3 238.0,168.8 222.2,166.6 206.9,164.2Z" fill="#8100e0" stroke="#8100e0"/>
<path d="M197.9,162.8 184.1,160.3 177.7,159.3 172.0,158.5 166.2,157.8 160.9,157.2 149.3,156.3 144.5,156.0 139.7,155.8 135.0,155.8 132.3,155.8 131.1,155.8 130.4,155.8 130.0,155.8 130.6,155.8 130.0,155.8 129.5,155.8 128.8,155.8 126.6,155.9 121.6,156.2 113.9,156.7 104.9,157.6 99.1,158.3 90.6,159.6 88.8,159.9 87.5,160.1 86.7,160.3 86.3,160.3 86.7,160.2 86.9,160.2 86.2,160.4 85.6,160.5 84.4,160.7 76.8,162.5 67.5,165.1 59.0,167.3 48.0,170.3 38.2,172.7 24.1,176.7 9.5,179.2 22.0,168.2 35.1,156.5 48.8,144.1 63.2,131.0 94.0,104.0 110.5,88.4 127.9,69.8 146.2,57.0 160.9,73.8 174.9,85.3 188.0,100.6 200.4,116.7 212.3,128.8 223.6,141.1 234.3,151.1 244.5,162.0 254.3,172.3 238.0,168.8 222.2,166.6 206.9,164.2Z" fill="#8100ea" stroke="#8100ea"/>
<path d="M207.6,164.3 193.8,161.8 180.9,159.7 170.3,158.2 164.9,157.6 159.6,157.1 146.5,156.1 141.8,155.9 136.8,155.8 133.4,155.7 131.7,155.8 130.9,155.8 130.4,155.8 130.0,155.8 130.6,155.8 130.0,155.8 129.3,155.8 127.9,155.9 124.5,156.0 117.2,156.4 110.8,157.0 101.9,158.0 93.2,159.2 90.0,159.7 88.0,160.0 87.5,160.1 86.7,160.3 86.3,160.3 86.9,160.2 86.2,160.4 85.6,160.5 84.9,160.6 83.1,161.0 78.9,162.0 69.1,164.6 62.8,166.1 55.8,167.9 43.1,171.3 24.1,176.7 9.5,179.2 22.0,168.2 35.1,156.5 48.8,144.1 63.2,131.0 94.0,104.0 110.5,88.4 127.9,69.8 146.2,57.0 160.9,73.8 174.9,85.3 188.0,100.6 200.4,116.7 212.3,128.8 223.6,141.1 234.3,151.1 244.5,162.0 254.3,172.3 238.0,168.8 222.2,166.6Z" fill="#8200f4" stroke="#8200f4"/>
<path d="M217.6,165.9 200.6,162.7 187.8,160.5 181.7,159.6 175.5,158.7 170.5,158.1 164.9,157.5 158.6,157.0 148.6,156.3 144.1,156.0 139.7,155.8 135.0,155.8 132.3,155.8 131.1,155.8 130.4,155.8 130.0,155.8 130.2,155.8 130.6,155.8 130.0,155.8 129.5,155.8 128.3,155.8 126.0,155.9 119.6,156.3 112.4,156.8 102.4,157.9 93.2,159.2 90.0,159.7 88.5,159.9 87.6,160.1 87.0,160.2 86.5,160.3 86.7,160.2 86.9,160.2 86.2,160.4 85.6,160.5 84.9,160.6 83.1,161.0 78.2,162.1 70.6,164.0 60.7,166.4 50.9,168.9 39.2,172.0 23.4,176.8 9.5,179.2 22.0,168.2 35.1,156.5 48.8,144.1 63.2,131.0 94.0,104.0 110.5,88.4 127.9,69.8 146.2,57.0 160.9,73.8 174.9,85.3 188.0,100.6 200.4,116.7 212.3,128.8 223.6,141.1 234.3,151.1 244.5,162.0 254.3,172.3 238.0,168.8 222.2,166.6Z" fill="#8200fe" stroke="#8200fe"/>
<path d="M226.9,167.2 210.2,164.1 193.8,161.2 181.1,159.3 175.3,158.5 169.3,157.8 163.1,157.2 156.4,156.7 146.5,156.1 141.7,155.9 135.6,155.8 132.5,155.8 131.1,155.8 130.4,155.8 130.0,155.8 130.6,155.8 130.0,155.8 129.5,155.8 128.8,155.8 126.6,155.9 122.0,156.1 113.1,156.8 102.4,157.9 98.2,158.4 92.2,159.3 88.2,160.0 85.3,160.5 80.1,161.7 72.2,163.5 63.6,165.4 51.7,168.3 40.3,171.3 25.2,175.9 17.3,177.9 9.5,179.2 22.0,168.2 35.1,156.5 48.8,144.1 63.2,131.0 94.0,104.0 110.5,88.4 127.9,69.8 146.2,57.0 160.9,73.8 174.9,85.3 188.0,100.6 200.4,116.7 212.3,128.8 223.6,141.1 234.3,151.1 244.5,162.0 254.3,172.3 238.0,168.8Z" fill="#7300ff" stroke="#7300ff"/>
<path d="M235.6,168.5 214.3,164.4 198.3,161.6 184.8,159.6 178.3,158.7 172.3,158.0 166.7,157.4 158.4,156.7 152.3,156.3 144.3,155.9 138.9,155.8 133.8,155.7 130.0,155.8 125.2,156.0 119.6,156.3 115.2,156.6 102.4,157.9 97.6,158.5 92.1,159.3 88.5,159.9 83.9,160.8 79.0,161.8 73.8,163.0 64.2,165.0 52.9,167.7 41.4,170.6 26.2,175.2 11.1,179.0 9.5,179.2 22.0,168.2 35.1,156.5 48.8,144.1 63.2,131.0 94.0,104.0 110.5,88.4 127.9,69.8 146.2,57.0 160.9,73.8 174.9,85.3 188.0,100.6 200.4,116.7 212.3,128.8 223.6,141.1 234.3,151.1 244.5,162.0 254.3,172.3 238.0,168.8Z" fill="#6300ff" stroke="#6300ff"/>
<path d="M253.4,172.0 237.4,168.3 226.5,166.2 213.6,163.9 204.6,162.3 193.1,160.5 183.3,159.1 175.9,158.2 167.9,157.3 162.6,156.8 156.6,156.4 149.7,156.0 141.0,155.7 135.4,155.7 130.9,155.7 125.4,155.9 119.3,156.3 105.5,157.4 100.4,158.0 95.0,158.7 92.2,159.1 86.6,160.1 66.5,164.2 59.9,165.7 53.4,167.2 42.5,169.9 27.1,174.4 10.1,178.7 22.0,168.2 35.1,156.5 48.8,144.1 63.2,131.0 94.0,104.0 110.5,88.4 127.9,69.8 146.2,57.0 160.9,73.8 174.9,85.3 188.0,100.6 200.4,116.7 212.3,128.8 223.6,141.1 234.3,151.1 244.5,162.0 254.2,172.2Z" fill="#5300ff" stroke="#5300ff"/>
<path d="M252.7,171.3 236.7,167.6 226.1,165.7 212.8,163.3 204.0,161.9 192.8,160.1 182.8,158.8 176.3,158.0 168.3,157.1 162.9,156.6 156.3,156.2 148.9,155.8 139.9,155.6 135.6,155.6 130.9,155.7 126.1,155.9 121.4,156.1 110.3,156.9 105.4,157.3 100.0,157.9 94.2,158.7 86.7,159.9 66.7,163.8 59.9,165.3 53.8,166.7 43.6,169.2 28.1,173.7 11.0,177.9 22.0,168.2 35.1,156.5 48.8,144.1 63.2,131.0 94.0,104.0 110.5,88.4 127.9,69.8 146.2,57.0 160.9,73.8 174.9,85.3 188.0,100.6 200.4,116.7 212.3,128.8 223.6,141.1 234.3,151.1 244.5,162.0 253.5,171.5Z" fill="#4200ff" stroke="#4200ff"/>
<path d="M252.1,170.6 235.9,166.9 225.6,165.1 212.3,162.8 204.2,161.5 193.0,159.8 183.3,158.5 175.9,157.6 169.2,156.9 162.8,156.4 156.6,156.0 150.2,155.7 144.1,155.5 137.5,155.5 131.3,155.6 126.5,155.7 121.8,156.0 111.1,156.7 105.4,157.2 101.1,157.6 96.2,158.2 91.2,159.0 86.3,159.8 78.6,161.3 72.9,162.3 67.2,163.4 61.2,164.7 54.2,166.3 44.7,168.5 29.1,172.9 11.9,177.1 22.0,168.2 35.1,156.5 48.8,144.1 63.2,131.0 94.0,104.0 110.5,88.4 127.9,69.8 146.2,57.0 160.9,73.8 174.9,85.3 188.0,100.6 200.4,116.7 212.3,128.8 223.6,141.1 234.3,151.1 252.9,170.8Z" fill="#3200ff" stroke="#3200ff"/>
<path d="M251.3,169.9 235.1,166.3 223.9,164.3 210.8,162.1 202.2,160.8 191.3,159.2 181.1,157.9 174.0,157.1 167.2,156.5 161.1,156.0 155.4,155.7 150.5,155.5 145.3,155.3 136.3,155.4 131.3,155.5 125.2,155.7 116.1,156.2 110.2,156.6 105.5,157.0 97.7,157.8 92.1,158.6 86.3,159.6 67.7,163.0 62.1,164.1 54.5,165.8 45.8,167.8 30.1,172.2 12.8,176.3 22.0,168.2 35.1,156.5 48.8,144.1 63.2,131.0 94.0,104.0 110.5,88.4 127.9,69.8 146.2,57.0 160.9,73.8 174.9,85.3 188.0,100.6 200.4,116.7 212.3,128.8 223.6,141.1 234.3,151.1 252.2,170.1Z" fill="#2200ff" stroke="#2200ff"/>
<path d="M250.6,169.2 234.3,165.6 224.3,163.9 211.2,161.7 202.5,160.4 191.9,158.9 181.2,157.6 174.0,156.8 167.1,156.2 160.2,155.7 154.9,155.4 148.7,155.2 145.1,155.1 139.5,155.2 131.4,155.3 126.7,155.5 114.9,156.1 107.5,156.6 101.8,157.1 97.3,157.7 91.7,158.5 74.7,161.3 63.4,163.5 56.6,164.9 49.0,166.6 43.4,168.1 31.0,171.4 13.7,175.6 22.0,168.2 35.1,156.5 48.8,144.1 63.2,131.0 94.0,104.0 110.5,88.4 127.9,69.8 146.2,57.0 160.9,73.8 174.9,85.3 188.0,100.6 200.4,116.7 212.3,128.8 223.6,141.1 234.3,151.1 251.5,169.3Z" fill="#1200ff" stroke="#1200ff"/>
<path d="M249.9,168.4 233.5,164.9 223.9,163.3 210.2,161.1 202.8,160.0 190.3,158.3 181.4,157.3 174.3,156.5 167.9,155.9 161.0,155.4 154.9,155.1 150.7,155.0 144.4,154.9 139.0,154.9 132.0,155.1 120.8,155.5 115.9,155.8 109.2,156.2 102.2,156.9 97.3,157.5 92.1,158.2 75.7,160.8 64.7,162.8 57.0,164.4 48.9,166.2 42.0,168.0 32.0,170.7 14.6,174.8 22.0,168.2 35.1,156.5 48.8,144.1 63.2,131.0 94.0,104.0 110.5,88.4 127.9,69.8 146.2,57.0 160.9,73.8 174.9,85.3 188.0,100.6 200.4,116.7 212.3,128.8 223.6,141.1 234.3,151.1 250.8,168.6Z" fill="#0200ff" stroke="#0200ff"/>
<path d="M249.2,167.7 232.7,164.2 225.8,163.1 218.0,161.8 204.1,159.8 192.4,158.2 183.9,157.2 176.6,156.4 169.8,155.8 163.1,155.3 156.6,154.9 152.3,154.7 146.5,154.7 136.5,154.8 118.4,155.4 111.9,155.8 105.9,156.2 100.7,156.8 94.8,157.5 77.4,160.2 71.4,161.2 66.0,162.1 59.0,163.6 50.4,165.4 43.9,167.0 33.0,169.9 15.5,174.0 22.0,168.2 35.1,156.5 48.8,144.1 63.2,131.0 94.0,104.0 110.5,88.4 127.9,69.8 146.2,57.0 160.9,73.8 174.9,85.3 188.0,100.6 200.4,116.7 212.3,128.8 223.6,141.1 234.3,151.1 250.1,167.9Z" fill="#000dff" stroke="#000dff"/>
<path d="M248.5,167.0 231.9,163.5 225.3,162.5 217.5,161.3 202.6,159.1 191.3,157.7 183.6,156.8 176.8,156.0 170.8,155.5 164.6,155.0 158.2,154.6 153.4,154.5 147.4,154.4 141.8,154.4 136.5,154.5 118.9,155.1 112.3,155.4 106.2,155.9 101.1,156.5 95.1,157.2 77.7,159.7 71.8,160.7 66.4,161.7 58.5,163.2 50.3,165.0 34.0,169.2 16.4,173.2 22.0,168.2 35.1,156.5 48.8,144.1 63.2,131.0 94.0,104.0 110.5,88.4 127.9,69.8 146.2,57.0 160.9,73.8 174.9,85.3 188.0,100.6 200.4,116.7 212.3,128.8 223.6,141.1 234.3,151.1 249.4,167.2Z" fill="#001cff" stroke="#001cff"/>
<path d="M247.8,166.2 231.1,162.8 221.3,161.3 206.3,159.2 198.7,158.1 187.2,156.7 177.6,155.7 170.4,155.1 163.4,154.6 158.8,154.4 152.6,154.2 146.7,154.1 141.1,154.1 124.9,154.5 119.3,154.7 113.6,155.1 108.2,155.4 103.5,155.9 95.4,156.9 82.9,158.6 77.9,159.3 72.0,160.2 62.3,162.0 51.4,164.3 35.0,168.4 17.3,172.4 22.0,168.2 35.1,156.5 48.8,144.1 63.2,131.0 94.0,104.0 110.5,88.4 127.9,69.8 146.2,57.0 160.9,73.8 174.9,85.3 188.0,100.6 200.4,116.7 212.3,128.8 223.6,141.1 234.3,151.1 248.7,166.4Z" fill="#002cff" stroke="#002cff"/>
<path d="M247.4,165.6 230.3,162.1 222.3,160.9 207.2,158.8 199.6,157.8 188.0,156.4 179.3,155.5 172.1,154.9 164.9,154.3 154.9,153.9 150.2,153.8 144.0,153.8 128.5,154.1 121.3,154.3 116.0,154.6 110.3,155.0 105.4,155.4 98.2,156.2 84.8,157.9 74.1,159.5 70.4,160.1 64.5,161.1 52.5,163.5 36.0,167.7 18.2,171.6 22.0,168.2 35.1,156.5 48.8,144.1 63.2,131.0 94.0,104.0 110.5,88.4 127.9,69.8 146.2,57.0 160.9,73.8 174.9,85.3 188.0,100.6 200.4,116.7 212.3,128.8 223.6,141.1 234.3,151.1 248.0,165.7Z" fill="#003bff" stroke="#003bff"/>
<path d="M246.4,164.8 229.5,161.4 221.9,160.3 213.8,159.2 199.5,157.3 188.1,156.0 179.4,155.1 168.3,154.2 162.1,153.9 155.4,153.6 149.5,153.5 145.3,153.5 128.6,153.7 120.6,154.0 115.3,154.3 111.2,154.6 105.7,155.0 98.9,155.8 85.0,157.5 79.8,158.2 74.0,159.0 64.7,160.6 53.6,162.8 37.0,166.9 19.1,170.8 35.1,156.5 48.8,144.1 63.2,131.0 94.0,104.0 110.5,88.4 127.9,69.8 146.2,57.0 160.9,73.8 174.9,85.3 188.0,100.6 200.4,116.7 212.3,128.8 223.6,141.1 234.3,151.1 247.3,164.9Z" fill="#004aff" stroke="#004aff"/>
<path d="M245.7,164.0 228.7,160.7 220.8,159.6 212.9,158.5 198.4,156.7 187.2,155.4 179.6,154.7 173.0,154.1 169.3,153.9 162.2,153.5 155.4,153.3 146.4,153.2 134.5,153.3 128.6,153.4 123.4,153.6 114.9,154.0 106.0,154.7 99.7,155.3 85.8,157.0 80.1,157.7 74.4,158.5 65.1,160.1 54.8,162.1 38.0,166.1 20.0,170.0 35.1,156.5 48.8,144.1 63.2,131.0 94.0,104.0 110.5,88.4 127.9,69.8 146.2,57.0 160.9,73.8 174.9,85.3 188.0,100.6 200.4,116.7 212.3,128.8 223.6,141.1 234.3,151.1 246.6,164.2Z" fill="#0059ff" stroke="#0059ff"/>
<path d="M245.0,163.3 227.9,160.0 220.7,159.0 212.8,158.0 198.7,156.2 191.1,155.4 179.9,154.3 175.2,153.9 168.9,153.5 162.8,153.2 156.6,153.0 145.9,152.8 136.0,152.8 129.4,153.0 123.7,153.2 116.3,153.5 106.2,154.3 100.9,154.8 87.1,156.3 80.7,157.2 74.3,158.1 65.3,159.6 55.9,161.4 39.0,165.4 20.9,169.2 48.8,144.1 63.2,131.0 94.0,104.0 110.5,88.4 127.9,69.8 146.2,57.0 160.9,73.8 174.9,85.3 188.0,100.6 200.4,116.7 212.3,128.8 223.6,141.1 234.3,151.1 245.9,163.5Z" fill="#0068ff" stroke="#0068ff"/>
<path d="M244.3,162.5 227.1,159.3 220.0,158.3 212.0,157.3 197.8,155.6 190.1,154.8 179.2,153.8 167.4,153.0 156.1,152.6 150.1,152.5 139.8,152.4 128.9,152.6 118.3,153.0 112.3,153.4 106.4,153.9 87.8,155.8 81.6,156.6 75.7,157.4 66.2,158.9 57.0,160.6 40.0,164.6 31.3,166.4 21.8,168.4 48.8,144.1 63.2,131.0 94.0,104.0 110.5,88.4 127.9,69.8 146.2,57.0 160.9,73.8 174.9,85.3 188.0,100.6 200.4,116.7 212.3,128.8 223.6,141.1 234.3,151.1 245.2,162.7Z" fill="#0077ff" stroke="#0077ff"/>
<path d="M243.6,161.8 226.3,158.6 221.1,157.9 212.6,156.8 199.2,155.3 191.7,154.5 182.2,153.6 169.7,152.7 157.9,152.3 141.6,152.0 135.5,152.0 129.7,152.1 120.3,152.5 112.1,153.0 107.2,153.4 88.7,155.2 82.5,156.0 77.0,156.7 67.9,158.2 58.2,159.9 50.0,161.7 41.0,163.8 32.3,165.6 22.7,167.6 48.8,144.1 63.2,131.0 94.0,104.0 110.5,88.4 127.9,69.8 146.2,57.0 160.9,73.8 174.9,85.3 188.0,100.6 200.4,116.7 212.3,128.8 223.6,141.1 234.3,151.1 244.5,162.0Z" fill="#0086ff" stroke="#0086ff"/>
<path d="M242.9,161.0 226.8,158.1 223.0,157.6 213.3,156.3 200.7,154.9 193.2,154.1 185.8,153.4 172.7,152.5 166.1,152.2 159.7,151.9 141.1,151.6 135.4,151.6 129.2,151.7 119.9,152.1 107.6,153.0 90.6,154.6 84.5,155.3 78.3,156.0 69.2,157.4 59.3,159.2 51.1,161.0 42.0,163.0 33.3,164.8 23.6,166.8 48.8,144.1 63.2,131.0 94.0,104.0 110.5,88.4 127.9,69.8 146.2,57.0 160.9,73.8 174.9,85.3 188.0,100.6 200.4,116.7 212.3,128.8 223.6,141.1 234.3,151.1 243.8,161.2Z" fill="#0095ff" stroke="#0095ff"/>
<path d="M242.4,160.3 224.6,157.2 210.3,155.4 197.2,154.0 189.1,153.2 174.0,152.1 161.7,151.6 142.8,151.1 136.7,151.1 130.1,151.2 124.3,151.4 120.0,151.7 108.5,152.5 91.7,154.0 85.4,154.6 79.7,155.3 70.4,156.7 60.5,158.4 51.7,160.3 43.0,162.3 34.2,164.0 24.5,166.0 48.8,144.1 63.2,131.0 94.0,104.0 110.5,88.4 127.9,69.8 146.2,57.0 160.9,73.8 174.9,85.3 188.0,100.6 200.4,116.7 212.3,128.8 223.6,141.1 234.3,151.1 243.1,160.4Z" fill="#00a4ff" stroke="#00a4ff"/>
<path d="M241.4,159.5 223.8,156.5 209.3,154.7 196.2,153.3 189.9,152.8 174.9,151.7 162.6,151.2 149.6,150.8 143.6,150.7 136.8,150.7 129.5,150.8 120.3,151.2 110.2,151.9 92.2,153.4 85.8,154.1 79.9,154.8 70.6,156.2 61.6,157.7 53.2,159.4 44.1,161.5 35.2,163.2 25.4,165.2 48.8,144.1 63.2,131.0 94.0,104.0 110.5,88.4 127.9,69.8 146.2,57.0 160.9,73.8 174.9,85.3 188.0,100.6 200.4,116.7 212.3,128.8 223.6,141.1 234.3,151.1 242.4,159.7Z" fill="#00b3ff" stroke="#00b3ff"/>
<path d="M240.7,158.8 223.0,155.7 208.3,154.0 195.9,152.8 190.3,152.3 175.2,151.3 163.2,150.8 151.6,150.4 144.5,150.2 137.1,150.2 130.4,150.3 124.2,150.6 117.2,150.9 98.2,152.4 88.9,153.2 80.3,154.2 71.9,155.4 62.7,156.9 54.3,158.7 45.1,160.7 36.1,162.4 26.3,164.4 48.8,144.1 63.2,131.0 94.0,104.0 110.5,88.4 127.9,69.8 146.2,57.0 160.9,73.8 174.9,85.3 188.0,100.6 200.4,116.7 212.3,128.8 223.6,141.1 234.3,151.1 241.7,158.9Z" fill="#00c2ff" stroke="#00c2ff"/>
<path d="M240.0,158.0 222.2,155.0 214.4,154.1 206.7,153.3 198.7,152.5 189.7,151.8 183.2,151.3 172.1,150.7 154.1,150.0 147.6,149.8 141.5,149.7 135.2,149.8 130.2,149.8 123.7,150.1 117.2,150.5 98.7,151.8 88.4,152.8 83.7,153.3 80.2,153.7 72.1,154.9 63.9,156.2 55.4,157.9 46.1,159.9 37.1,161.6 27.3,163.6 48.8,144.1 63.2,131.0 94.0,104.0 110.5,88.4 127.9,69.8 146.2,57.0 160.9,73.8 174.9,85.3 188.0,100.6 200.4,116.7 212.3,128.8 223.6,141.1 234.3,151.1 240.9,158.2Z" fill="#00d1ff" stroke="#00d1ff"/>
<path d="M239.3,157.2 221.4,154.3 213.8,153.4 205.6,152.6 190.7,151.3 183.0,150.8 173.6,150.3 155.9,149.5 143.8,149.3 137.9,149.3 131.8,149.3 125.3,149.6 118.8,149.9 99.9,151.2 89.8,152.1 85.1,152.6 81.5,153.0 73.8,154.1 65.1,155.4 56.5,157.1 47.1,159.1 38.1,160.8 28.2,162.7 48.8,144.1 63.2,131.0 94.0,104.0 110.5,88.4 127.9,69.8 146.2,57.0 160.9,73.8 174.9,85.3 188.0,100.6 200.4,116.7 212.3,128.8 223.6,141.1 234.3,151.1 240.2,157.4Z" fill="#00e0ff" stroke="#00e0ff"/>
<path d="M239.3,156.6 220.5,153.5 205.9,152.0 190.7,150.8 183.5,150.3 174.5,149.8 155.8,149.0 143.7,148.8 137.2,148.8 132.2,148.8 127.1,149.0 120.8,149.3 101.7,150.5 90.8,151.4 86.5,151.9 82.3,152.4 74.7,153.4 66.2,154.7 57.2,156.4 48.2,158.3 38.8,160.0 29.1,161.9 48.8,144.1 63.2,131.0 94.0,104.0 110.5,88.4 127.9,69.8 146.2,57.0 160.9,73.8 174.9,85.3 188.0,100.6 200.4,116.7 212.3,128.8 223.6,141.1 234.3,151.1 239.5,156.6Z" fill="#00efff" stroke="#00efff"/>
<path d="M237.8,155.7 219.7,152.8 209.1,151.7 190.5,150.2 179.4,149.6 162.4,148.8 155.5,148.5 143.3,148.3 136.5,148.3 131.7,148.4 126.8,148.5 120.8,148.8 101.5,150.0 90.0,151.0 82.1,151.9 74.9,152.8 67.4,153.9 58.7,155.6 49.2,157.5 40.1,159.2 30.0,161.1 48.8,144.1 63.2,131.0 94.0,104.0 110.5,88.4 127.9,69.8 146.2,57.0 160.9,73.8 174.9,85.3 188.0,100.6 200.4,116.7 212.3,128.8 223.6,141.1 234.3,151.1 238.8,155.8Z" fill="#00feff" stroke="#00feff"/>
<path d="M238.1,155.1 218.9,152.1 212.3,151.4 207.7,151.0 190.7,149.7 180.4,149.1 163.4,148.3 156.5,148.0 149.9,147.8 143.7,147.7 138.6,147.7 132.5,147.8 122.6,148.2 103.0,149.3 91.4,150.3 83.4,151.1 76.1,152.1 68.6,153.2 59.8,154.8 50.2,156.7 40.9,158.4 30.9,160.2 48.8,144.1 63.2,131.0 94.0,104.0 110.5,88.4 127.9,69.8 146.2,57.0 160.9,73.8 174.9,85.3 188.0,100.6 200.4,116.7 212.3,128.8 223.6,141.1 234.3,151.1Z" fill="#00ffe2" stroke="#00ffe2"/>
<path d="M236.4,154.1 218.0,151.3 213.1,150.9 205.8,150.2 189.8,149.1 182.6,148.7 174.6,148.3 166.1,147.8 156.4,147.4 149.1,147.3 142.9,147.2 132.3,147.3 123.2,147.7 102.8,148.8 91.2,149.7 83.6,150.6 76.9,151.4 69.7,152.4 60.5,154.1 51.3,155.9 42.0,157.5 31.9,159.4 48.8,144.1 63.2,131.0 94.0,104.0 110.5,88.4 127.9,69.8 146.2,57.0 160.9,73.8 174.9,85.3 188.0,100.6 200.4,116.7 212.3,128.8 223.6,141.1 234.3,151.1 237.3,154.3Z" fill="#00ffc4" stroke="#00ffc4"/>
<path d="M235.6,153.4 225.5,151.8 217.2,150.6 204.9,149.6 189.3,148.5 166.6,147.3 156.2,146.9 149.5,146.7 142.8,146.7 132.1,146.8 122.7,147.2 103.1,148.2 92.0,149.1 83.3,150.0 70.9,151.6 62.0,153.2 52.3,155.1 43.0,156.7 32.8,158.6 48.8,144.1 63.2,131.0 94.0,104.0 110.5,88.4 127.9,69.8 146.2,57.0 160.9,73.8 174.9,85.3 188.0,100.6 200.4,116.7 212.3,128.8 223.6,141.1 234.3,151.1 236.6,153.5Z" fill="#00ffa6" stroke="#00ffa6"/>
<path d="M234.9,152.6 224.1,151.0 216.3,149.9 204.3,148.9 189.4,148.0 167.7,146.8 156.6,146.3 145.0,146.1 138.4,146.2 132.3,146.3 123.0,146.6 110.2,147.2 103.4,147.6 93.4,148.3 84.1,149.3 72.1,150.9 63.2,152.5 53.4,154.3 44.0,155.9 33.7,157.7 48.8,144.1 63.2,131.0 94.0,104.0 110.5,88.4 127.9,69.8 146.2,57.0 160.9,73.8 174.9,85.3 188.0,100.6 200.4,116.7 212.3,128.8 223.6,141.1 234.3,151.1 235.9,152.7Z" fill="#00ff88" stroke="#00ff88"/>
<path d="M234.2,151.8 226.8,150.7 215.3,149.2 206.5,148.5 197.1,147.8 174.8,146.6 159.5,145.9 147.1,145.6 139.8,145.6 132.8,145.8 113.9,146.4 104.9,146.9 94.8,147.6 84.3,148.7 73.3,150.1 63.8,151.8 54.4,153.5 44.5,155.2 34.7,156.9 48.8,144.1 63.2,131.0 94.0,104.0 110.5,88.4 127.9,69.8 146.2,57.0 160.9,73.8 174.9,85.3 188.0,100.6 200.4,116.7 212.3,128.8 223.6,141.1 234.3,151.1 235.1,151.9Z" fill="#00ff6a" stroke="#00ff6a"/>
<path d="M233.8,151.1 223.9,149.7 214.4,148.5 201.7,147.5 178.5,146.2 164.4,145.5 153.4,145.1 143.9,145.0 132.6,145.2 114.0,145.8 105.1,146.3 96.1,146.9 85.6,148.0 74.5,149.3 65.4,150.9 55.5,152.7 46.0,154.2 35.6,156.0 48.8,144.1 63.2,131.0 94.0,104.0 110.5,88.4 127.9,69.8 146.2,57.0 160.9,73.8 174.9,85.3 188.0,100.6 200.4,116.7 212.3,128.8 223.6,141.1 234.4,151.2Z" fill="#00ff4c" stroke="#00ff4c"/>
<path d="M232.6,150.3 223.1,149.0 213.5,147.7 201.6,146.9 188.0,146.1 179.1,145.6 164.1,144.9 153.1,144.5 143.1,144.5 132.9,144.7 123.2,145.0 116.0,145.2 106.5,145.6 97.5,146.2 85.8,147.3 75.7,148.5 66.2,150.1 56.6,151.9 46.5,153.5 36.6,155.2 48.8,144.1 63.2,131.0 94.0,104.0 110.5,88.4 127.9,69.8 146.2,57.0 160.9,73.8 174.9,85.3 188.0,100.6 200.4,116.7 212.3,128.8 223.6,141.1 233.6,150.4Z" fill="#00ff2e" stroke="#00ff2e"/>
<path d="M232.6,149.6 222.4,148.2 212.5,147.0 202.2,146.3 190.6,145.7 179.2,144.9 163.9,144.3 153.7,144.0 143.5,143.9 133.6,144.1 125.0,144.3 115.3,144.6 107.5,144.9 99.0,145.5 87.1,146.6 76.9,147.8 67.7,149.3 57.6,151.1 48.0,152.6 37.5,154.3 48.8,144.1 63.2,131.0 94.0,104.0 110.5,88.4 127.9,69.8 146.2,57.0 160.9,73.8 174.9,85.3 188.0,100.6 200.4,116.7 212.3,128.8 223.6,141.1 232.8,149.6Z" fill="#00ff0f" stroke="#00ff0f"/>
<path d="M230.9,148.7 221.3,147.5 211.6,146.3 200.8,145.6 193.1,145.2 180.4,144.4 172.3,144.0 158.1,143.5 148.0,143.3 137.2,143.4 126.8,143.7 119.1,143.8 110.8,144.1 100.4,144.7 89.7,145.7 78.6,146.9 69.8,148.3 58.7,150.3 49.0,151.7 38.5,153.5 48.8,144.1 63.2,131.0 94.0,104.0 110.5,88.4 127.9,69.8 146.2,57.0 160.9,73.8 174.9,85.3 188.0,100.6 200.4,116.7 212.3,128.8 223.6,141.1 231.9,148.9Z" fill="#05ff00" stroke="#05ff00"/>
<path d="M230.1,148.0 220.4,146.7 210.7,145.6 202.7,145.0 182.7,143.9 172.9,143.4 158.1,142.9 149.2,142.8 138.3,142.8 128.6,143.1 119.2,143.2 111.2,143.5 101.8,144.0 90.8,145.0 79.3,146.2 69.5,147.8 59.8,149.4 50.0,150.9 39.4,152.6 48.8,144.1 63.2,131.0 94.0,104.0 110.5,88.4 127.9,69.8 146.2,57.0 160.9,73.8 174.9,85.3 188.0,100.6 200.4,116.7 212.3,128.8 223.6,141.1 231.1,148.1Z" fill="#0fff00" stroke="#0fff00"/>
<path d="M229.3,147.2 219.4,146.0 209.7,144.8 190.9,143.7 173.6,142.8 160.3,142.3 149.1,142.2 139.6,142.2 130.4,142.4 119.8,142.6 110.2,142.9 103.2,143.3 92.1,144.2 80.5,145.4 71.1,146.9 60.8,148.6 51.0,150.1 40.4,151.8 48.8,144.1 63.2,131.0 94.0,104.0 110.5,88.4 127.9,69.8 146.2,57.0 160.9,73.8 174.9,85.3 188.0,100.6 200.4,116.7 212.3,128.8 223.6,141.1 230.3,147.3Z" fill="#1aff00" stroke="#1aff00"/>
<path d="M228.4,146.4 218.6,145.2 208.8,144.1 191.0,143.0 173.6,142.1 162.5,141.7 150.2,141.6 140.7,141.6 119.7,141.9 110.4,142.2 104.0,142.6 93.5,143.4 81.7,144.6 72.2,146.1 61.9,147.8 52.0,149.2 41.3,150.9 48.8,144.1 63.2,131.0 94.0,104.0 110.5,88.4 127.9,69.8 146.2,57.0 160.9,73.8 174.9,85.3 188.0,100.6 200.4,116.7 212.3,128.8 223.6,141.1 229.5,146.6Z" fill="#24ff00" stroke="#24ff00"/>
<path d="M227.7,145.7 217.7,144.5 207.8,143.4 191.8,142.4 173.5,141.4 164.7,141.1 150.1,141.0 142.1,141.0 120.2,141.3 111.9,141.5 105.5,141.8 93.6,142.8 82.9,143.8 72.9,145.3 63.0,147.0 53.1,148.4 42.3,150.0 63.2,131.0 94.0,104.0 110.5,88.4 127.9,69.8 146.2,57.0 160.9,73.8 174.9,85.3 188.0,100.6 200.4,116.7 212.3,128.8 223.6,141.1 228.6,145.8Z" fill="#2fff00" stroke="#2fff00"/>
<path d="M226.7,144.9 216.4,143.7 206.8,142.6 192.0,141.7 173.9,140.8 165.1,140.5 150.0,140.3 127.9,140.5 120.3,140.6 111.5,140.9 104.7,141.2 94.9,142.0 84.1,143.0 74.5,144.5 64.1,146.1 54.1,147.5 43.2,149.2 63.2,131.0 94.0,104.0 110.5,88.4 127.9,69.8 146.2,57.0 160.9,73.8 174.9,85.3 188.0,100.6 200.4,116.7 212.3,128.8 223.6,141.1 227.8,145.0Z" fill="#39ff00" stroke="#39ff00"/>
<path d="M226.3,144.1 206.0,141.9 192.8,141.0 174.3,140.1 165.6,139.9 151.1,139.7 129.3,139.8 120.4,139.9 109.8,140.3 103.5,140.7 95.1,141.3 85.4,142.2 75.4,143.7 65.2,145.3 55.1,146.7 44.2,148.3 63.2,131.0 94.0,104.0 110.5,88.4 127.9,69.8 146.2,57.0 160.9,73.8 174.9,85.3 188.0,100.6 200.4,116.7 212.3,128.8 223.6,141.1 226.9,144.2Z" fill="#43ff00" stroke="#43ff00"/>
<path d="M225.0,143.3 205.1,141.1 191.6,140.2 174.0,139.5 164.3,139.2 151.6,139.1 139.5,139.1 130.2,139.1 121.0,139.2 111.3,139.5 104.9,139.9 96.4,140.5 86.6,141.4 76.9,142.8 66.3,144.4 55.8,145.9 45.2,147.4 63.2,131.0 94.0,104.0 110.5,88.4 127.9,69.8 146.2,57.0 160.9,73.8 174.9,85.3 188.0,100.6 200.4,116.7 212.3,128.8 223.6,141.1 226.1,143.4Z" fill="#4eff00" stroke="#4eff00"/>
<path d="M225.0,142.6 204.2,140.3 190.9,139.5 174.2,138.8 164.2,138.5 151.2,138.4 141.4,138.5 131.3,138.4 121.0,138.6 112.0,138.8 105.1,139.2 97.1,139.8 87.8,140.6 78.0,142.0 67.4,143.6 57.2,145.0 46.1,146.6 63.2,131.0 94.0,104.0 110.5,88.4 127.9,69.8 146.2,57.0 160.9,73.8 174.9,85.3 188.0,100.6 200.4,116.7 212.3,128.8 223.6,141.1 225.2,142.6Z" fill="#58ff00" stroke="#58ff00"/>
<path d="M223.3,141.7 203.4,139.5 191.2,138.8 175.4,138.1 166.8,137.9 157.8,137.8 143.3,137.8 132.8,137.7 121.0,137.9 113.5,138.1 106.5,138.5 97.5,139.1 89.1,139.8 78.7,141.2 68.5,142.8 58.1,144.1 47.1,145.7 63.2,131.0 94.0,104.0 110.5,88.4 127.9,69.8 146.2,57.0 160.9,73.8 174.9,85.3 188.0,100.6 200.4,116.7 212.3,128.8 223.6,141.1 224.4,141.9Z" fill="#63ff00" stroke="#63ff00"/>
<path d="M222.5,140.9 212.5,139.8 202.5,138.7 193.8,138.2 184.2,137.7 171.8,137.3 160.6,137.2 145.1,137.1 133.5,137.0 121.1,137.2 115.0,137.4 106.7,137.8 98.0,138.4 90.3,139.0 80.4,140.3 69.6,141.9 59.3,143.2 48.1,144.8 63.2,131.0 94.0,104.0 110.5,88.4 127.9,69.8 146.2,57.0 160.9,73.8 174.9,85.3 188.0,100.6 200.4,116.7 212.3,128.8 223.5,141.1Z" fill="#6dff00" stroke="#6dff00"/>
<path d="M221.7,140.1 211.8,139.0 201.6,137.9 192.7,137.4 184.4,137.0 171.0,136.6 161.8,136.5 147.0,136.5 134.9,136.3 121.7,136.5 116.6,136.6 108.1,137.0 99.1,137.6 91.5,138.2 81.5,139.5 70.7,141.1 59.8,142.4 49.1,143.9 63.2,131.0 94.0,104.0 110.5,88.4 127.9,69.8 146.2,57.0 160.9,73.8 174.9,85.3 188.0,100.6 200.4,116.7 212.3,128.8 222.8,140.2Z" fill="#77ff00" stroke="#77ff00"/>
<path d="M221.4,139.3 210.9,138.1 200.8,137.1 191.9,136.6 184.7,136.3 170.8,135.9 161.9,135.8 148.9,135.8 135.0,135.6 121.8,135.8 117.4,135.9 108.3,136.3 100.7,136.8 92.8,137.4 82.2,138.8 71.8,140.2 61.3,141.5 50.0,143.0 63.2,131.0 94.0,104.0 110.5,88.4 127.9,69.8 146.2,57.0 160.9,73.8 174.9,85.3 188.0,100.6 200.4,116.7 212.3,128.8 222.0,139.4Z" fill="#82ff00" stroke="#82ff00"/>
<path d="M220.2,138.4 209.9,137.3 199.9,136.3 192.2,135.9 184.9,135.6 169.9,135.2 161.7,135.1 150.7,135.1 136.0,134.9 129.0,134.9 121.9,135.0 116.2,135.2 108.3,135.6 94.1,136.6 83.9,137.8 72.9,139.4 61.8,140.7 51.0,142.1 63.2,131.0 94.0,104.0 110.5,88.4 127.9,69.8 146.2,57.0 160.9,73.8 174.9,85.3 188.0,100.6 200.4,116.7 212.3,128.8 221.2,138.6Z" fill="#8cff00" stroke="#8cff00"/>
<path d="M219.4,137.6 209.3,136.5 199.0,135.5 185.7,134.9 166.0,134.4 152.5,134.4 139.9,134.2 130.6,134.2 122.0,134.3 116.3,134.5 108.4,134.9 95.4,135.8 87.1,136.8 74.1,138.5 63.4,139.7 52.0,141.2 63.2,131.0 94.0,104.0 110.5,88.4 127.9,69.8 146.2,57.0 160.9,73.8 174.9,85.3 188.0,100.6 200.4,116.7 212.3,128.8 220.5,137.7Z" fill="#97ff00" stroke="#97ff00"/>
<path d="M219.6,136.9 209.0,135.7 198.2,134.6 187.8,134.2 180.2,134.0 166.2,133.7 154.4,133.7 141.0,133.5 131.6,133.5 122.7,133.6 109.9,134.1 96.7,135.0 86.3,136.2 75.2,137.6 63.9,138.9 53.0,140.3 63.2,131.0 94.0,104.0 110.5,88.4 127.9,69.8 146.2,57.0 160.9,73.8 174.9,85.3 188.0,100.6 200.4,116.7 212.3,128.8 219.7,136.9Z" fill="#a1ff00" stroke="#a1ff00"/>
<path d="M217.8,135.9 207.6,134.8 197.3,133.8 189.3,133.5 176.7,133.2 142.1,132.7 133.3,132.7 124.3,132.8 111.4,133.3 98.0,134.1 86.6,135.4 76.3,136.8 63.3,138.2 54.0,139.4 63.2,131.0 94.0,104.0 110.5,88.4 127.9,69.8 146.2,57.0 160.9,73.8 174.9,85.3 188.0,100.6 200.4,116.7 212.3,128.8 218.9,136.0Z" fill="#abff00" stroke="#abff00"/>
<path d="M217.4,135.1 206.8,134.0 196.4,133.0 190.0,132.7 178.3,132.5 158.0,132.2 147.8,132.0 136.5,132.0 125.8,132.0 112.8,132.5 99.3,133.3 87.7,134.6 77.5,135.9 65.5,137.2 54.9,138.5 63.2,131.0 94.0,104.0 110.5,88.4 127.9,69.8 146.2,57.0 160.9,73.8 174.9,85.3 188.0,100.6 200.4,116.7 212.3,128.8 218.1,135.2Z" fill="#b6ff00" stroke="#b6ff00"/>
<path d="M216.3,134.2 205.9,133.2 195.5,132.2 191.2,132.0 178.5,131.7 159.8,131.5 148.5,131.3 136.6,131.2 127.4,131.3 114.4,131.7 100.7,132.5 90.0,133.7 78.6,135.1 66.5,136.3 55.9,137.6 63.2,131.0 94.0,104.0 110.5,88.4 127.9,69.8 146.2,57.0 160.9,73.8 174.9,85.3 188.0,100.6 200.4,116.7 212.3,128.8 217.3,134.3Z" fill="#c0ff00" stroke="#c0ff00"/>
<path d="M215.5,133.3 196.4,131.5 194.6,131.4 191.5,131.3 179.8,131.0 161.7,130.8 149.6,130.5 137.3,130.5 128.9,130.5 115.4,130.9 102.0,131.7 91.3,132.8 79.8,134.2 68.2,135.4 56.9,136.7 63.2,131.0 94.0,104.0 110.5,88.4 127.9,69.8 146.2,57.0 160.9,73.8 174.9,85.3 188.0,100.6 200.4,116.7 212.3,128.8 216.6,133.5Z" fill="#caff00" stroke="#caff00"/>
<path d="M215.6,132.6 199.3,131.0 193.6,130.6 191.8,130.5 180.9,130.2 163.5,130.1 150.2,129.8 138.3,129.7 130.5,129.7 117.1,130.1 103.3,130.8 92.3,132.0 81.0,133.3 68.7,134.6 57.9,135.8 63.2,131.0 94.0,104.0 110.5,88.4 127.9,69.8 146.2,57.0 160.9,73.8 174.9,85.3 188.0,100.6 200.4,116.7 212.3,128.8 215.8,132.6Z" fill="#d5ff00" stroke="#d5ff00"/>
<path d="M213.9,131.6 201.2,130.4 192.7,129.7 190.7,129.7 177.8,129.4 165.4,129.3 150.4,129.0 136.8,128.9 129.9,129.0 117.2,129.4 104.6,130.0 93.3,131.2 82.1,132.5 70.9,133.5 58.9,134.9 63.2,131.0 94.0,104.0 110.5,88.4 127.9,69.8 146.2,57.0 160.9,73.8 174.9,85.3 188.0,100.6 200.4,116.7 212.3,128.8 215.0,131.7Z" fill="#dfff00" stroke="#dfff00"/>
<path d="M213.4,130.8 204.7,130.0 191.8,128.9 179.5,128.6 167.1,128.6 150.7,128.2 142.6,128.1 131.5,128.2 118.8,128.6 106.0,129.2 95.1,130.3 83.3,131.6 69.6,132.9 59.9,134.0 63.2,131.0 94.0,104.0 110.5,88.4 127.9,69.8 146.2,57.0 160.9,73.8 174.9,85.3 188.0,100.6 200.4,116.7 212.3,128.8 214.2,130.9Z" fill="#eaff00" stroke="#eaff00"/>
<path d="M212.3,129.9 200.6,128.9 190.2,128.1 179.8,127.9 168.8,127.8 149.7,127.4 135.3,127.4 130.2,127.5 119.0,127.8 107.3,128.3 96.0,129.4 84.5,130.7 69.7,132.1 60.9,133.1 63.2,131.0 94.0,104.0 110.5,88.4 127.9,69.8 146.2,57.0 160.9,73.8 174.9,85.3 188.0,100.6 200.4,116.7 212.3,128.8 213.4,130.0Z" fill="#f4ff00" stroke="#f4ff00"/>
<path d="M211.5,129.0 200.2,128.1 189.8,127.3 180.0,127.1 170.6,127.0 149.7,126.6 139.1,126.6 130.3,126.7 120.1,127.0 108.7,127.5 97.1,128.6 85.7,129.8 73.0,131.0 62.0,132.1 94.0,104.0 110.5,88.4 127.9,69.8 146.2,57.0 160.9,73.8 174.9,85.3 188.0,100.6 200.4,116.7 212.6,129.1Z" fill="#feff00" stroke="#feff00"/>
<path d="M211.6,128.2 199.8,127.3 188.9,126.4 180.6,126.3 172.3,126.2 150.2,125.8 139.2,125.8 131.9,125.9 121.6,126.2 110.0,126.6 98.9,127.7 86.9,129.0 75.4,129.9 63.0,131.2 94.0,104.0 110.5,88.4 127.9,69.8 146.2,57.0 160.9,73.8 174.9,85.3 188.0,100.6 200.4,116.7 211.8,128.3Z" fill="#fff600" stroke="#fff600"/>
<path d="M209.8,127.3 198.3,126.4 187.9,125.6 174.0,125.4 150.5,125.0 139.9,124.9 132.0,125.1 121.7,125.4 111.4,125.8 99.8,126.8 88.1,128.1 76.1,129.1 64.0,130.3 94.0,104.0 110.5,88.4 127.9,69.8 146.2,57.0 160.9,73.8 174.9,85.3 188.0,100.6 200.4,116.7 210.9,127.4Z" fill="#ffed00" stroke="#ffed00"/>
<path d="M209.7,126.5 198.0,125.6 187.0,124.8 152.1,124.2 142.5,124.1 137.5,124.2 124.7,124.5 112.8,124.9 100.9,126.0 89.4,127.2 77.6,128.1 65.1,129.4 94.0,104.0 110.5,88.4 127.9,69.8 146.2,57.0 160.9,73.8 174.9,85.3 188.0,100.6 200.4,116.7 210.1,126.5Z" fill="#ffe400" stroke="#ffe400"/>
<path d="M208.1,125.6 197.1,124.7 186.0,123.9 177.4,123.8 166.6,123.5 152.3,123.3 143.0,123.3 137.8,123.4 124.3,123.7 114.1,124.1 102.8,125.1 90.6,126.3 78.8,127.2 66.1,128.4 94.0,104.0 110.5,88.4 127.9,69.8 146.2,57.0 160.9,73.8 174.9,85.3 188.0,100.6 200.4,116.7 209.2,125.7Z" fill="#ffdb00" stroke="#ffdb00"/>
<path d="M207.8,124.7 196.2,123.8 185.0,123.1 179.2,123.0 167.4,122.7 152.8,122.5 144.6,122.5 138.0,122.6 124.5,122.9 115.5,123.2 103.7,124.2 91.8,125.4 79.8,126.3 67.2,127.5 94.0,104.0 110.5,88.4 127.9,69.8 146.2,57.0 160.9,73.8 174.9,85.3 188.0,100.6 200.4,116.7 208.3,124.8Z" fill="#ffd100" stroke="#ffd100"/>
<path d="M206.3,123.8 195.3,123.0 184.0,122.3 168.1,121.9 151.7,121.7 146.1,121.6 137.6,121.8 124.7,122.1 116.9,122.4 104.8,123.4 93.0,124.5 81.1,125.4 68.3,126.6 94.0,104.0 110.5,88.4 127.9,69.8 146.2,57.0 160.9,73.8 174.9,85.3 188.0,100.6 200.4,116.7 207.5,123.9Z" fill="#ffc800" stroke="#ffc800"/>
<path d="M205.9,123.0 194.4,122.1 183.7,121.4 176.0,121.2 165.5,121.0 149.3,120.8 137.8,120.9 118.3,121.5 106.7,122.4 94.2,123.6 82.1,124.5 69.3,125.6 94.0,104.0 110.5,88.4 127.9,69.8 146.2,57.0 160.9,73.8 174.9,85.3 188.0,100.6 200.4,116.7 206.6,123.0Z" fill="#ffbf00" stroke="#ffbf00"/>
<path d="M204.6,122.0 182.2,120.5 177.7,120.4 166.1,120.1 149.8,120.0 137.9,120.1 119.7,120.6 108.1,121.5 95.5,122.7 83.4,123.6 70.4,124.7 94.0,104.0 110.5,88.4 127.9,69.8 146.2,57.0 160.9,73.8 174.9,85.3 188.0,100.6 200.4,116.7 205.8,122.1Z" fill="#ffb600" stroke="#ffb600"/>
<path d="M204.0,121.2 187.6,120.1 181.4,119.6 177.5,119.5 168.4,119.3 159.7,119.2 149.9,119.1 138.4,119.3 121.1,119.8 108.7,120.7 96.7,121.8 83.9,122.7 71.5,123.7 94.0,104.0 110.5,88.4 127.9,69.8 146.2,57.0 160.9,73.8 174.9,85.3 188.0,100.6 200.4,116.7 204.9,121.2Z" fill="#ffad00" stroke="#ffad00"/>
<path d="M202.8,120.3 190.1,119.4 180.6,118.7 177.3,118.6 168.1,118.4 160.0,118.3 148.7,118.3 138.4,118.4 122.5,118.9 110.6,119.8 98.0,120.9 85.7,121.7 72.5,122.8 94.0,104.0 110.5,88.4 127.9,69.8 146.2,57.0 160.9,73.8 174.9,85.3 188.0,100.6 200.4,116.7 204.0,120.4Z" fill="#ffa300" stroke="#ffa300"/>
<path d="M202.0,119.4 192.6,118.8 179.1,117.7 169.9,117.5 159.7,117.4 148.4,117.4 139.0,117.6 123.8,118.0 110.7,119.0 99.2,120.0 86.2,120.8 73.6,121.8 94.0,104.0 110.5,88.4 127.9,69.8 146.2,57.0 160.9,73.8 174.9,85.3 188.0,100.6 200.4,116.7 203.1,119.5Z" fill="#ff9a00" stroke="#ff9a00"/>
<path d="M201.1,118.5 195.2,118.1 178.9,116.8 168.9,116.6 159.5,116.5 155.3,116.5 139.1,116.7 125.2,117.1 112.1,118.1 100.5,119.1 88.0,119.8 74.7,120.9 94.0,104.0 110.5,88.4 127.9,69.8 146.2,57.0 160.9,73.8 174.9,85.3 188.0,100.6 200.4,116.7 202.3,118.6Z" fill="#ff9100" stroke="#ff9100"/>
<path d="M200.2,117.6 178.1,115.9 168.1,115.7 157.8,115.6 139.7,115.8 126.5,116.2 112.2,117.3 101.7,118.1 88.5,119.0 75.8,119.9 94.0,104.0 110.5,88.4 127.9,69.8 146.2,57.0 160.9,73.8 174.9,85.3 188.0,100.6 200.4,116.7 201.4,117.7Z" fill="#ff8800" stroke="#ff8800"/>
<path d="M200.3,116.8 188.4,115.8 177.2,115.0 167.3,114.8 158.2,114.7 139.7,115.0 127.8,115.3 112.3,116.4 103.0,117.2 90.3,118.0 76.9,119.0 94.0,104.0 110.5,88.4 127.9,69.8 146.2,57.0 160.9,73.8 174.9,85.3 188.0,100.6 200.5,116.8Z" fill="#ff7e00" stroke="#ff7e00"/>
<path d="M198.6,115.7 187.2,114.8 176.4,114.1 167.6,113.9 159.7,113.8 138.8,114.1 129.2,114.4 120.4,115.0 104.2,116.3 90.9,117.1 78.0,118.0 94.0,104.0 110.5,88.4 127.9,69.8 146.2,57.0 160.9,73.8 174.9,85.3 188.0,100.6 199.7,115.8Z" fill="#ff7200" stroke="#ff7200"/>
<path d="M197.8,114.8 185.6,113.8 175.5,113.1 161.1,112.9 138.9,113.3 130.6,113.5 120.4,114.2 105.5,115.4 92.7,116.1 79.1,117.0 94.0,104.0 110.5,88.4 127.9,69.8 146.2,57.0 160.9,73.8 174.9,85.3 188.0,100.6 199.0,114.8Z" fill="#ff6500" stroke="#ff6500"/>
<path d="M197.2,113.8 186.0,112.9 174.7,112.2 161.7,112.0 139.4,112.4 131.9,112.5 121.0,113.3 106.8,114.4 93.2,115.2 80.2,116.1 94.0,104.0 110.5,88.4 127.9,69.8 146.2,57.0 160.9,73.8 174.9,85.3 188.0,100.6 198.3,113.9Z" fill="#ff5900" stroke="#ff5900"/>
<path d="M197.1,112.9 185.2,112.0 173.8,111.2 164.1,111.1 150.5,111.3 133.3,111.6 121.1,112.4 108.1,113.5 95.1,114.2 81.3,115.1 94.0,104.0 110.5,88.4 127.9,69.8 146.2,57.0 160.9,73.8 174.9,85.3 188.0,100.6 197.5,112.9Z" fill="#ff4c00" stroke="#ff4c00"/>
<path d="M195.6,111.8 184.3,111.0 173.0,110.3 164.7,110.2 150.7,110.4 134.6,110.7 121.1,111.6 109.3,112.5 95.6,113.3 82.4,114.1 94.0,104.0 110.5,88.4 127.9,69.8 146.2,57.0 160.9,73.8 174.9,85.3 188.0,100.6 196.8,111.9Z" fill="#ff4000" stroke="#ff4000"/>
<path d="M194.8,110.9 183.6,110.1 172.1,109.4 163.0,109.3 149.6,109.5 136.0,109.8 123.1,110.6 110.5,111.6 96.1,112.3 83.5,113.1 94.0,104.0 110.5,88.4 127.9,69.8 146.2,57.0 160.9,73.8 174.9,85.3 188.0,100.6 196.0,111.0Z" fill="#ff3400" stroke="#ff3400"/>
<path d="M194.1,109.9 182.8,109.1 171.3,108.4 162.0,108.4 150.2,108.5 137.4,108.8 125.0,109.6 111.8,110.6 96.0,111.4 84.7,112.2 94.0,104.0 110.5,88.4 127.9,69.8 146.2,57.0 160.9,73.8 174.9,85.3 188.0,100.6 195.3,110.0Z" fill="#ff2700" stroke="#ff2700"/>
<path d="M193.8,108.9 182.0,108.1 170.4,107.5 161.0,107.5 149.8,107.6 138.1,107.9 125.1,108.7 113.0,109.6 97.3,110.5 85.8,111.2 94.0,104.0 110.5,88.4 127.9,69.8 146.2,57.0 160.9,73.8 174.9,85.3 188.0,100.6 194.5,109.0Z" fill="#ff1b00" stroke="#ff1b00"/>
<path d="M193.6,108.0 179.9,107.1 169.5,106.5 159.3,106.6 149.7,106.7 140.1,107.0 127.6,107.7 114.2,108.7 98.3,109.5 86.9,110.2 94.0,104.0 110.5,88.4 127.9,69.8 146.2,57.0 160.9,73.8 174.9,85.3 188.0,100.6 193.7,108.0Z" fill="#ff0e00" stroke="#ff0e00"/>
<path d="M191.8,106.9 177.9,106.0 168.5,105.6 159.0,105.6 148.3,105.8 141.4,106.0 126.3,106.9 115.4,107.7 106.3,108.1 88.0,109.2 94.0,104.0 110.5,88.4 127.9,69.8 146.2,57.0 160.9,73.8 174.9,85.3 188.0,100.6 193.0,107.0Z" fill="#ff0200" stroke="#ff0200"/>
<path d="M191.0,106.0 176.3,105.0 167.6,104.6 158.0,104.7 148.7,104.9 142.7,105.0 126.3,106.0 116.7,106.7 106.2,107.2 89.2,108.2 94.0,104.0 110.5,88.4 127.9,69.8 146.2,57.0 160.9,73.8 174.9,85.3 188.0,100.6 192.2,106.0Z" fill="#ff0000" stroke="#ff0000"/>
<path d="M190.5,105.0 178.4,104.2 166.6,103.7 158.5,103.7 149.3,103.9 143.9,104.0 117.9,105.7 106.7,106.3 90.3,107.2 94.0,104.0 110.5,88.4 127.9,69.8 146.2,57.0 160.9,73.8 174.9,85.3 188.0,100.6 191.4,105.0Z" fill="#ff0000" stroke="#ff0000"/>
<path d="M190.3,104.0 180.6,103.4 165.7,102.7 149.1,103.0 145.2,103.0 119.2,104.8 107.2,105.3 91.5,106.2 94.0,104.0 110.5,88.4 127.9,69.8 146.2,57.0 160.9,73.8 174.9,85.3 188.0,100.6 190.7,104.0Z" fill="#ff0000" stroke="#ff0000"/>
<path d="M188.7,103.0 179.4,102.4 164.7,101.8 156.5,101.9 147.2,102.0 140.5,102.4 120.4,103.8 107.6,104.3 92.6,105.2 94.0,104.0 110.5,88.4 127.9,69.8 146.2,57.0 160.9,73.8 174.9,85.3 188.0,100.6 189.9,103.0Z" fill="#ff0000" stroke="#ff0000"/>
<path d="M187.9,102.0 177.3,101.4 163.8,100.8 147.8,101.1 121.7,102.8 108.1,103.4 93.7,104.2 110.5,88.4 127.9,69.8 146.2,57.0 160.9,73.8 174.9,85.3 188.0,100.6 189.1,102.0Z" fill="#ff0000" stroke="#ff0000"/>
<path d="M187.1,101.0 175.1,100.4 162.8,99.9 149.1,100.1 139.1,100.7 122.9,101.8 109.3,102.4 94.9,103.2 110.5,88.4 127.9,69.8 146.2,57.0 160.9,73.8 174.9,85.3 188.3,101.0Z" fill="#ff0000" stroke="#ff0000"/>
<path d="M187.0,100.0 175.4,99.4 161.8,98.9 150.3,99.1 139.1,99.8 124.2,100.8 110.5,101.3 95.9,102.1 110.5,88.4 127.9,69.8 146.2,57.0 160.9,73.8 174.9,85.3 187.5,100.0Z" fill="#ff0000" stroke="#ff0000"/>
<path d="M185.4,99.0 172.6,98.4 160.9,98.0 151.6,98.1 137.7,98.9 125.5,99.8 110.9,100.4 97.0,101.1 110.5,88.4 127.9,69.8 146.2,57.0 160.9,73.8 174.9,85.3 186.7,99.0Z" fill="#ff0000" stroke="#ff0000"/>
<path d="M184.6,98.0 172.3,97.4 159.9,97.0 153.0,97.1 140.2,97.8 126.6,98.7 111.4,99.4 98.1,100.0 110.5,88.4 127.9,69.8 146.2,57.0 160.9,73.8 174.9,85.3 185.8,98.0Z" fill="#ff0000" stroke="#ff0000"/>
<path d="M185.0,97.0 172.7,96.5 161.1,96.1 158.9,96.0 154.3,96.1 140.8,96.8 127.8,97.7 111.0,98.4 99.2,99.0 110.5,88.4 127.9,69.8 146.2,57.0 160.9,73.8 174.9,85.3Z" fill="#ff0000" stroke="#ff0000"/>
<path d="M182.8,96.0 163.9,95.2 157.9,95.0 155.6,95.1 142.7,95.8 128.9,96.7 110.8,97.4 100.4,98.0 110.5,88.4 127.9,69.8 146.2,57.0 160.9,73.8 174.9,85.3 184.1,96.0Z" fill="#ff0000" stroke="#ff0000"/>
<path d="M182.0,95.0 169.6,94.5 156.9,94.1 143.8,94.7 130.1,95.6 110.8,96.4 101.5,96.9 110.5,88.4 127.9,69.8 146.2,57.0 160.9,73.8 174.9,85.3 183.2,95.0Z" fill="#ff0000" stroke="#ff0000"/>
<path d="M181.8,94.0 163.4,93.3 158.7,93.1 155.6,93.2 143.8,93.8 131.3,94.6 102.6,95.9 110.5,88.4 127.9,69.8 146.2,57.0 160.9,73.8 174.9,85.3 182.4,94.0Z" fill="#ff0000" stroke="#ff0000"/>
<path d="M180.2,92.9 160.6,92.2 154.3,92.3 142.4,92.9 132.4,93.5 103.7,94.8 110.5,88.4 127.9,69.8 146.2,57.0 160.9,73.8 174.9,85.3 181.5,93.0Z" fill="#ff0000" stroke="#ff0000"/>
<path d="M179.3,91.9 162.5,91.3 153.0,91.4 142.9,91.9 133.6,92.5 104.8,93.7 110.5,88.4 127.9,69.8 146.2,57.0 160.9,73.8 174.9,85.3 180.6,92.0Z" fill="#ff0000" stroke="#ff0000"/>
<path d="M179.2,90.9 164.4,90.4 151.7,90.4 134.8,91.4 125.3,91.8 106.0,92.7 110.5,88.4 127.9,69.8 146.2,57.0 160.9,73.8 174.9,85.3 179.7,91.0Z" fill="#ff0000" stroke="#ff0000"/>
<path d="M177.5,89.9 166.3,89.5 150.4,89.5 136.0,90.4 125.2,90.8 107.1,91.6 110.5,88.4 127.9,69.8 146.2,57.0 160.9,73.8 174.9,85.3 178.9,89.9Z" fill="#ff0000" stroke="#ff0000"/>
<path d="M176.7,88.8 168.2,88.5 149.1,88.6 137.2,89.3 124.7,89.8 108.2,90.5 110.5,88.4 127.9,69.8 146.2,57.0 160.9,73.8 174.9,85.3 178.0,88.9Z" fill="#ff0000" stroke="#ff0000"/>
<path d="M177.1,87.9 170.1,87.6 159.1,87.6 147.7,87.7 138.4,88.2 125.7,88.7 109.4,89.5 110.5,88.4 127.9,69.8 146.2,57.0 160.9,73.8 174.9,85.3Z" fill="#ff0000" stroke="#ff0000"/>
<path d="M174.9,86.8 172.0,86.7 165.6,86.7 146.4,86.8 139.6,87.2 124.0,87.7 110.5,88.4 127.9,69.8 146.2,57.0 160.9,73.8 174.9,85.3 176.2,86.8Z" fill="#ff0000" stroke="#ff0000"/>
<path d="M174.0,85.7 159.9,85.7 145.1,85.8 140.8,86.1 125.1,86.6 111.5,87.3 127.9,69.8 146.2,57.0 160.9,73.8 174.9,85.3 175.3,85.8Z" fill="#ff0000" stroke="#ff0000"/>
<path d="M174.1,84.8 159.3,84.8 143.7,84.9 126.4,85.5 112.6,86.2 127.9,69.8 146.2,57.0 160.9,73.8 174.3,84.8Z" fill="#ff0000" stroke="#ff0000"/>
<path d="M172.4,83.8 158.4,83.8 142.4,83.9 128.0,84.4 113.6,85.1 127.9,69.8 146.2,57.0 160.9,73.8 173.1,83.8Z" fill="#fa0000" stroke="#fa0000"/>
<path d="M170.7,82.8 157.5,82.8 145.0,83.0 141.4,82.9 128.4,83.3 114.7,83.9 127.9,69.8 146.2,57.0 160.9,73.8 171.9,82.8Z" fill="#f40000" stroke="#f40000"/>
<path d="M169.2,81.8 146.8,82.0 140.3,81.9 128.2,82.3 115.7,82.8 127.9,69.8 146.2,57.0 160.9,73.8 170.7,81.9Z" fill="#ef0000" stroke="#ef0000"/>
<path d="M169.2,80.9 148.5,81.0 139.3,80.8 127.8,81.2 116.8,81.7 127.9,69.8 146.2,57.0 160.9,73.8 169.5,80.9Z" fill="#e90000" stroke="#e90000"/>
<path d="M167.5,79.9 150.2,80.0 138.2,79.8 128.8,80.1 117.8,80.6 127.9,69.8 146.2,57.0 160.9,73.8 168.3,79.9Z" fill="#e40000" stroke="#e40000"/>
<path d="M165.8,78.9 152.0,79.0 137.1,78.8 118.9,79.4 127.9,69.8 146.2,57.0 160.9,73.8 167.1,78.9Z" fill="#de0000" stroke="#de0000"/>
<path d="M165.9,77.9 153.7,78.0 136.0,77.7 119.9,78.3 127.9,69.8 146.2,57.0 160.9,73.8 165.9,77.9Z" fill="#d80000" stroke="#d80000"/>
<path d="M164.2,76.9 155.5,76.9 134.9,76.7 121.0,77.2 127.9,69.8 146.2,57.0 160.9,73.8 164.7,76.9Z" fill="#d30000" stroke="#d30000"/>
<path d="M162.5,75.9 157.2,75.9 146.4,75.7 133.9,75.6 122.1,76.0 127.9,69.8 146.2,57.0 160.9,73.8 163.5,75.9Z" fill="#cd0000" stroke="#cd0000"/>
<path d="M160.7,74.9 132.8,74.5 123.1,74.9 127.9,69.8 146.2,57.0 160.9,73.8 162.2,74.9Z" fill="#c80000" stroke="#c80000"/>
<path d="M160.8,73.9 145.8,73.6 131.7,73.5 124.2,73.7 127.9,69.8 146.2,57.0 161.0,73.9Z" fill="#c20000" stroke="#c20000"/>
<path d="M158.6,72.7 145.5,72.5 132.7,72.4 130.6,72.4 125.3,72.6 127.9,69.8 146.2,57.0 160.0,72.8Z" fill="#bc0000" stroke="#bc0000"/>
<path d="M158.2,71.7 136.2,71.4 129.5,71.3 126.4,71.4 127.9,69.8 146.2,57.0 159.1,71.7Z" fill="#b70000" stroke="#b70000"/>
<path d="M157.9,70.6 141.2,70.3 127.5,70.3 127.9,69.8 146.2,57.0 158.1,70.6Z" fill="#b10000" stroke="#b10000"/>
<path d="M155.7,69.4 143.1,69.3 128.8,69.2 146.2,57.0 157.1,69.5Z" fill="#ab0000" stroke="#ab0000"/>
<path d="M155.4,68.3 142.3,68.2 130.4,68.1 146.2,57.0 156.2,68.3Z" fill="#a60000" stroke="#a60000"/>
<path d="M155.1,67.2 144.1,67.1 131.9,67.0 146.2,57.0 155.2,67.2Z" fill="#a00000" stroke="#a00000"/>
<path d="M152.8,66.1 143.0,66.0 133.5,65.9 146.2,57.0 154.2,66.1Z" fill="#9b0000" stroke="#9b0000"/>
<path d="M152.5,65.0 143.5,64.9 135.1,64.8 146.2,57.0 153.2,65.0Z" fill="#950000" stroke="#950000"/>
<path d="M152.1,63.9 145.5,63.8 136.6,63.7 146.2,57.0 152.2,63.9Z" fill="#8f0000" stroke="#8f0000"/>
<path d="M149.8,62.7 144.6,62.6 138.2,62.6 146.2,57.0 151.2,62.7Z" fill="#8a0000" stroke="#8a0000"/>
<path d="M149.5,61.6 144.9,61.5 139.8,61.5 146.2,57.0 150.2,61.6Z" fill="#840000" stroke="#840000"/>
<path d="M149.2,60.4 144.0,60.4 141.4,60.4 146.2,57.0 149.2,60.4Z" fill="#7e0000" stroke="#7e0000"/>
<path d="M146.9,59.3 146.0,59.3 143.0,59.2 146.2,57.0 148.2,59.3Z" fill="#790000" stroke="#790000"/>
<path d="M146.6,58.1 145.7,58.1 144.6,58.1 146.2,57.0 147.2,58.1Z" fill="#730000" stroke="#730000"/>
</g>
<g stroke="#666" stroke-opacity="0.38" stroke-width="0.6" fill="none">
<path d="M148.7,156.3 152.8,156.6 166.9,157.3 196.5,159.1 212.0,159.8 228.0,160.2 244.5,162.0M101.5,158.0 90.4,159.5 77.7,161.6 64.6,163.0 50.9,164.6 36.8,167.1 22.0,168.2M129.2,155.8 141.5,155.5 155.7,154.8 185.6,153.4 201.3,152.4 217.5,150.9 234.3,151.1M126.6,155.9 116.0,156.5 103.8,156.5 91.1,156.9 77.9,156.2 64.2,156.0 50.0,156.9 35.1,156.5M104.0,157.7 116.0,156.5 129.8,154.8 144.1,152.6 174.2,148.4 190.0,145.8 206.5,142.4 223.6,141.1M157.2,156.9 152.8,156.6 141.5,155.5 129.8,154.8 117.6,153.2 105.0,151.8 91.8,149.2 78.1,147.0 63.8,146.4 48.8,144.1M86.5,160.3 90.4,159.5 103.8,156.5 117.6,153.2 132.0,149.4 162.3,141.8 178.3,137.3 195.0,131.8 212.3,128.8M177.7,159.5 166.9,157.3 155.7,154.8 144.1,152.6 132.0,149.4 119.4,146.4 106.2,141.7 92.5,137.6 78.2,135.4 63.2,131.0M64.8,166.0 77.7,161.6 91.1,156.9 105.0,151.8 119.4,146.4 149.9,135.4 166.1,129.1 182.9,121.3 200.4,116.7M192.1,161.9 181.5,158.2 170.4,154.1 158.9,150.5 146.9,145.7 134.3,141.0 121.2,134.3 107.5,128.2 93.2,124.3 78.2,117.8M51.7,169.3 64.6,163.0 77.9,156.2 106.2,141.7 136.9,126.6 153.2,117.8 170.3,107.3 188.0,100.6M206.9,164.2 196.5,159.1 185.6,153.4 174.2,148.4 162.3,141.8 149.9,135.4 136.9,126.6 123.3,118.4 109.0,112.8 94.0,104.0M38.2,172.7 50.9,164.6 92.5,137.6 123.3,118.4 139.7,107.3 156.9,94.0 174.9,85.3M222.2,166.6 212.0,159.8 201.3,152.4 190.0,145.8 178.3,137.3 166.1,129.1 153.2,117.8 139.7,107.3 125.5,99.8 110.5,88.4M24.1,176.7 78.2,135.4 109.0,112.8 125.5,99.8 142.8,84.3 160.9,73.8M238.0,168.8 228.0,160.2 217.5,150.9 206.5,142.4 195.0,131.8 182.9,121.3 170.3,107.3 156.9,94.0 142.8,84.3 127.9,69.8"/>
</g>
<line x1="10.2" y1="196.4" x2="145.1" y2="245.7" stroke="#000" stroke-width="1.2" stroke-linecap="square"/>
<line x1="145.1" y1="245.7" x2="253.5" y2="189.9" stroke="#000" stroke-width="1.2" stroke-linecap="square"/>
<line x1="253.5" y1="189.9" x2="261.1" y2="19.0" stroke="#000" stroke-width="1.2"/>
<line x1="10.2" y1="196.4" x2="10.2" y2="200.0" stroke="#000" stroke-width="1.3"/>
<line x1="253.5" y1="189.9" x2="253.5" y2="193.5" stroke="#000" stroke-width="1.3"/>
<line x1="23.3" y1="201.2" x2="23.3" y2="207.7" stroke="#000" stroke-width="1.3"/>
<line x1="243.2" y1="195.2" x2="243.2" y2="201.7" stroke="#000" stroke-width="1.3"/>
<line x1="36.8" y1="206.1" x2="36.8" y2="209.7" stroke="#000" stroke-width="1.3"/>
<line x1="232.5" y1="200.7" x2="232.5" y2="204.3" stroke="#000" stroke-width="1.3"/>
<line x1="50.8" y1="211.2" x2="50.8" y2="217.7" stroke="#000" stroke-width="1.3"/>
<line x1="221.4" y1="206.4" x2="221.4" y2="212.9" stroke="#000" stroke-width="1.3"/>
<line x1="65.2" y1="216.5" x2="65.2" y2="220.1" stroke="#000" stroke-width="1.3"/>
<line x1="209.9" y1="212.3" x2="209.9" y2="215.9" stroke="#000" stroke-width="1.3"/>
<line x1="80.1" y1="221.9" x2="80.1" y2="228.4" stroke="#000" stroke-width="1.3"/>
<line x1="197.9" y1="218.5" x2="197.9" y2="225.0" stroke="#000" stroke-width="1.3"/>
<line x1="95.5" y1="227.6" x2="95.5" y2="231.2" stroke="#000" stroke-width="1.3"/>
<line x1="185.5" y1="224.9" x2="185.5" y2="228.5" stroke="#000" stroke-width="1.3"/>
<line x1="111.5" y1="233.4" x2="111.5" y2="239.9" stroke="#000" stroke-width="1.3"/>
<line x1="172.6" y1="231.5" x2="172.6" y2="238.0" stroke="#000" stroke-width="1.3"/>
<line x1="128.0" y1="239.4" x2="128.0" y2="243.0" stroke="#000" stroke-width="1.3"/>
<line x1="159.1" y1="238.5" x2="159.1" y2="242.1" stroke="#000" stroke-width="1.3"/>
<line x1="145.1" y1="245.7" x2="145.1" y2="252.2" stroke="#000" stroke-width="1.3"/>
<text x="22.8" y="221.0" font-size="12.6" text-anchor="middle">20</text>
<text x="51.1" y="231.9" font-size="12.6" text-anchor="middle">40</text>
<text x="80.4" y="243.0" font-size="12.6" text-anchor="middle">60</text>
<text x="112.2" y="255.0" font-size="12.6" text-anchor="middle">80</text>
<text x="146.2" y="268.1" font-size="12.6" text-anchor="middle">100</text>
<text x="173.0" y="253.2" font-size="12.6" text-anchor="middle">80</text>
<text x="197.5" y="239.0" font-size="12.6" text-anchor="middle">60</text>
<text x="220.7" y="225.9" font-size="12.6" text-anchor="middle">40</text>
<text x="243.0" y="214.5" font-size="12.6" text-anchor="middle">20</text>
<line x1="253.5" y1="189.9" x2="258.5" y2="190.2" stroke="#000" stroke-width="1.3"/>
<text x="0.0" y="0.0" font-size="11.71" text-anchor="start" transform="translate(260.8 196.2) skewY(9.7)" textLength="5.4" lengthAdjust="spacingAndGlyphs">0</text>
<line x1="254.3" y1="170.9" x2="259.3" y2="171.2" stroke="#000" stroke-width="1.3"/>
<text x="0.0" y="0.0" font-size="11.77" text-anchor="start" transform="translate(261.8 178.0) skewY(9.4)" textLength="29.8" lengthAdjust="spacingAndGlyphs">50,000</text>
<line x1="255.2" y1="151.7" x2="260.2" y2="152.0" stroke="#000" stroke-width="1.3"/>
<text x="0.0" y="0.0" font-size="11.83" text-anchor="start" transform="translate(262.9 158.5) skewY(9.0)" textLength="35.4" lengthAdjust="spacingAndGlyphs">100,000</text>
<line x1="256.1" y1="132.2" x2="261.1" y2="132.5" stroke="#000" stroke-width="1.3"/>
<text x="0.0" y="0.0" font-size="11.89" text-anchor="start" transform="translate(264.0 138.8) skewY(8.7)" textLength="35.6" lengthAdjust="spacingAndGlyphs">150,000</text>
<line x1="256.9" y1="112.4" x2="261.9" y2="112.7" stroke="#000" stroke-width="1.3"/>
<text x="0.0" y="0.0" font-size="11.96" text-anchor="start" transform="translate(265.0 118.8) skewY(8.4)" textLength="35.7" lengthAdjust="spacingAndGlyphs">200,000</text>
<line x1="257.8" y1="92.3" x2="262.8" y2="92.6" stroke="#000" stroke-width="1.3"/>
<text x="0.0" y="0.0" font-size="12.02" text-anchor="start" transform="translate(266.1 98.6) skewY(8.0)" textLength="35.9" lengthAdjust="spacingAndGlyphs">250,000</text>
<line x1="258.8" y1="72.0" x2="263.8" y2="72.3" stroke="#000" stroke-width="1.3"/>
<text x="0.0" y="0.0" font-size="12.08" text-anchor="start" transform="translate(267.3 78.0) skewY(7.7)" textLength="36.1" lengthAdjust="spacingAndGlyphs">300,000</text>
<line x1="259.7" y1="51.3" x2="264.7" y2="51.6" stroke="#000" stroke-width="1.3"/>
<text x="0.0" y="0.0" font-size="12.14" text-anchor="start" transform="translate(268.4 57.1) skewY(7.3)" textLength="36.3" lengthAdjust="spacingAndGlyphs">350,000</text>
<line x1="260.6" y1="30.4" x2="265.6" y2="30.7" stroke="#000" stroke-width="1.3"/>
<text x="0.0" y="0.0" font-size="12.2" text-anchor="start" transform="translate(269.5 36.0) skewY(7.0)" textLength="36.5" lengthAdjust="spacingAndGlyphs">400,000</text>
<text x="34.1" y="241.4" font-size="11.3" text-anchor="start" transform="rotate(22.4 34.1 241.4)" textLength="72.8" lengthAdjust="spacingAndGlyphs">Number of SMs</text>
<text x="185.4" y="265.4" font-size="10.8" text-anchor="start" transform="rotate(-27.5 185.4 265.4)" textLength="91.3" lengthAdjust="spacingAndGlyphs">Number of time slots</text>
<text x="310.0" y="166.0" font-size="10.8" text-anchor="start" transform="rotate(-86.2 310.0 166.0)" font-style="italic" textLength="99.6" lengthAdjust="spacingAndGlyphs">Computation time (ms)</text>
<text x="166.7" y="77.5" font-size="9.8" text-anchor="start" style="stroke-width:.35px" textLength="48.0" lengthAdjust="spacingAndGlyphs">Li et al. 2019</text>
<text x="170.4" y="178.9" font-size="9.6" text-anchor="start" style="stroke-width:.35px" textLength="39.5" lengthAdjust="spacingAndGlyphs">Our PPDB</text>
<defs><linearGradient id="g1" x1="0" y1="0" x2="0" y2="1">
<stop offset="0.000" stop-color="#690000"/>
<stop offset="0.186" stop-color="#ff0000"/>
<stop offset="0.339" stop-color="#ff0000"/>
<stop offset="0.411" stop-color="#ff8000"/>
<stop offset="0.507" stop-color="#ffff00"/>
<stop offset="0.678" stop-color="#00ff00"/>
<stop offset="0.737" stop-color="#00ffff"/>
<stop offset="0.855" stop-color="#0000ff"/>
<stop offset="0.911" stop-color="#8200ff"/>
<stop offset="1.000" stop-color="#7d007d"/>
</linearGradient></defs>
<rect x="383.2" y="31.3" width="25.4" height="165.4" fill="url(#g1)"/>
<rect x="383.2" y="29.2" width="25.4" height="2.1" fill="#bbb"/>
<rect x="383.2" y="196.7" width="25.4" height="2.1" fill="#000"/>
<rect x="383.2" y="29.2" width="25.4" height="169.6" fill="none" stroke="#222" stroke-width="1"/>
<line x1="408.6" y1="31.3" x2="414.1" y2="31.3" stroke="#222" stroke-width="1.1"/>
<text x="418.2" y="34.9" font-size="10.8" text-anchor="start">406,000</text>
<line x1="408.6" y1="47.8" x2="414.1" y2="47.8" stroke="#222" stroke-width="1.1"/>
<text x="418.2" y="51.4" font-size="10.8" text-anchor="start">365,800</text>
<line x1="408.6" y1="64.4" x2="414.1" y2="64.4" stroke="#222" stroke-width="1.1"/>
<text x="418.2" y="68.0" font-size="10.8" text-anchor="start">325,600</text>
<line x1="408.6" y1="80.9" x2="414.1" y2="80.9" stroke="#222" stroke-width="1.1"/>
<text x="418.2" y="84.5" font-size="10.8" text-anchor="start">285,400</text>
<line x1="408.6" y1="97.5" x2="414.1" y2="97.5" stroke="#222" stroke-width="1.1"/>
<text x="418.2" y="101.1" font-size="10.8" text-anchor="start">245,200</text>
<line x1="408.6" y1="114.0" x2="414.1" y2="114.0" stroke="#222" stroke-width="1.1"/>
<text x="418.2" y="117.6" font-size="10.8" text-anchor="start">205,000</text>
<line x1="408.6" y1="130.5" x2="414.1" y2="130.5" stroke="#222" stroke-width="1.1"/>
<text x="418.2" y="134.1" font-size="10.8" text-anchor="start">164,800</text>
<line x1="408.6" y1="147.1" x2="414.1" y2="147.1" stroke="#222" stroke-width="1.1"/>
<text x="418.2" y="150.7" font-size="10.8" text-anchor="start">124,600</text>
<line x1="408.6" y1="163.6" x2="414.1" y2="163.6" stroke="#222" stroke-width="1.1"/>
<text x="418.2" y="167.2" font-size="10.8" text-anchor="start">84,400</text>
<line x1="408.6" y1="180.2" x2="414.1" y2="180.2" stroke="#222" stroke-width="1.1"/>
<text x="418.2" y="183.8" font-size="10.8" text-anchor="start">44,200</text>
<line x1="408.6" y1="196.7" x2="414.1" y2="196.7" stroke="#222" stroke-width="1.1"/>
<text x="418.2" y="200.3" font-size="10.8" text-anchor="start" style="stroke-width:.55px">4000</text>
<defs><linearGradient id="g2" x1="0" y1="0" x2="0" y2="1">
<stop offset="0.000" stop-color="#0d0890"/>
<stop offset="0.100" stop-color="#4102aa"/>
<stop offset="0.200" stop-color="#6c00b8"/>
<stop offset="0.300" stop-color="#9408b0"/>
<stop offset="0.400" stop-color="#b62a96"/>
<stop offset="0.500" stop-color="#cf4779"/>
<stop offset="0.600" stop-color="#e16462"/>
<stop offset="0.700" stop-color="#f2844b"/>
<stop offset="0.800" stop-color="#fca636"/>
<stop offset="0.900" stop-color="#fcce25"/>
<stop offset="1.000" stop-color="#f0f921"/>
</linearGradient></defs>
<rect x="491.2" y="30.2" width="25.6" height="167.9" fill="url(#g2)"/>
<rect x="491.2" y="28.1" width="25.6" height="2.1" fill="#fff"/>
<rect x="491.2" y="198.1" width="25.6" height="1.5" fill="#000"/>
<rect x="491.2" y="28.1" width="25.6" height="171.5" fill="none" stroke="#222" stroke-width="1"/>
<line x1="516.8" y1="30.2" x2="522.3" y2="30.2" stroke="#222" stroke-width="1.1"/>
<text x="526.7" y="33.8" font-size="10.2" text-anchor="start">9900</text>
<line x1="516.8" y1="47.0" x2="522.3" y2="47.0" stroke="#222" stroke-width="1.1"/>
<text x="526.7" y="50.6" font-size="10.2" text-anchor="start">8990</text>
<line x1="516.8" y1="63.8" x2="522.3" y2="63.8" stroke="#222" stroke-width="1.1"/>
<text x="526.7" y="67.4" font-size="10.2" text-anchor="start">8080</text>
<line x1="516.8" y1="80.6" x2="522.3" y2="80.6" stroke="#222" stroke-width="1.1"/>
<text x="526.7" y="84.2" font-size="10.2" text-anchor="start">7170</text>
<line x1="516.8" y1="97.4" x2="522.3" y2="97.4" stroke="#222" stroke-width="1.1"/>
<text x="526.7" y="101.0" font-size="10.2" text-anchor="start">6260</text>
<line x1="516.8" y1="114.2" x2="522.3" y2="114.2" stroke="#222" stroke-width="1.1"/>
<text x="526.7" y="117.8" font-size="10.2" text-anchor="start">5350</text>
<line x1="516.8" y1="130.9" x2="522.3" y2="130.9" stroke="#222" stroke-width="1.1"/>
<text x="526.7" y="134.5" font-size="10.2" text-anchor="start">4440</text>
<line x1="516.8" y1="147.7" x2="522.3" y2="147.7" stroke="#222" stroke-width="1.1"/>
<text x="526.7" y="151.3" font-size="10.2" text-anchor="start">3530</text>
<line x1="516.8" y1="164.5" x2="522.3" y2="164.5" stroke="#222" stroke-width="1.1"/>
<text x="526.7" y="168.1" font-size="10.2" text-anchor="start">2620</text>
<line x1="516.8" y1="181.3" x2="522.3" y2="181.3" stroke="#222" stroke-width="1.1"/>
<text x="526.7" y="184.9" font-size="10.2" text-anchor="start">1710</text>
<line x1="516.8" y1="198.1" x2="522.3" y2="198.1" stroke="#222" stroke-width="1.1"/>
<text x="526.7" y="201.7" font-size="10.2" text-anchor="start">800</text>
</svg></body></html>
